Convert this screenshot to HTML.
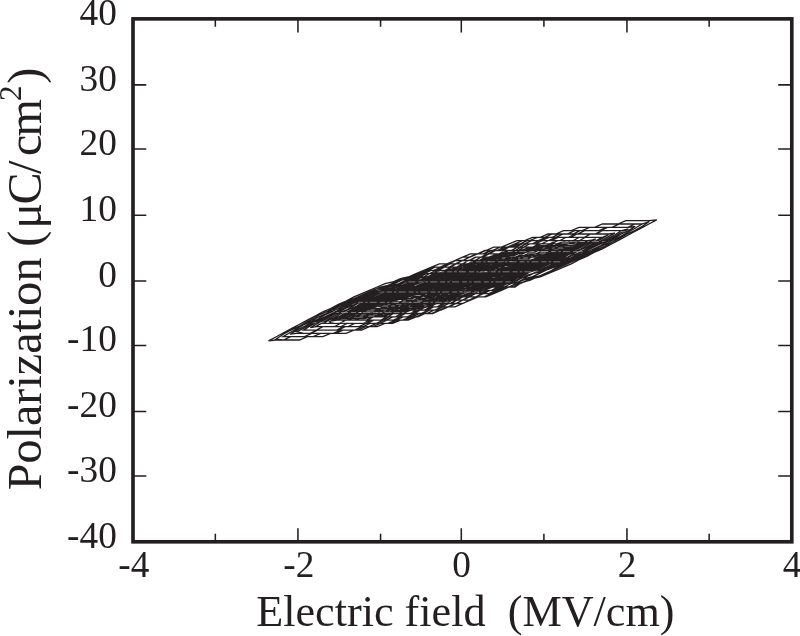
<!DOCTYPE html>
<html><head><meta charset="utf-8"><title>P-E hysteresis loops</title>
<style>
html,body{margin:0;padding:0;background:#fff;}
body{width:800px;height:636px;overflow:hidden;}
svg{display:block;}
text{font-family:"Liberation Serif","Times New Roman",Times,serif;fill:#231f20;white-space:pre;}
</style></head><body>
<svg width="800" height="636" viewBox="0 0 800 636">
<rect width="800" height="636" fill="#fff"/>
<defs><clipPath id="lens"><path d="M294.0 332.5 L302.4 331.7 L310.8 330.8 L319.3 329.8 L327.7 328.7 L336.1 327.5 L344.6 326.2 L353.0 324.8 L361.4 323.3 L369.9 321.8 L378.3 320.1 L386.7 318.4 L395.2 316.5 L403.6 314.6 L412.0 312.6 L420.4 310.5 L428.9 308.3 L437.3 306.0 L445.7 303.6 L454.2 301.1 L462.6 298.6 L471.0 295.9 L479.5 293.2 L487.9 290.3 L496.3 287.4 L504.8 284.4 L513.2 281.3 L521.6 278.1 L530.0 274.8 L538.5 271.4 L546.9 267.9 L555.3 264.4 L563.8 260.7 L572.2 257.0 L580.6 253.1 L589.1 249.2 L597.5 245.2 L605.9 241.1 L614.4 236.9 L622.8 232.6 L631.2 228.2 L622.8 229.0 L614.4 229.9 L605.9 230.9 L597.5 232.0 L589.1 233.2 L580.6 234.5 L572.2 235.9 L563.8 237.4 L555.3 238.9 L546.9 240.6 L538.5 242.3 L530.0 244.2 L521.6 246.1 L513.2 248.1 L504.8 250.2 L496.3 252.4 L487.9 254.7 L479.5 257.1 L471.0 259.6 L462.6 262.1 L454.2 264.8 L445.7 267.5 L437.3 270.4 L428.9 273.3 L420.4 276.3 L412.0 279.4 L403.6 282.6 L395.2 285.9 L386.7 289.3 L378.3 292.8 L369.9 296.3 L361.4 300.0 L353.0 303.7 L344.6 307.6 L336.1 311.5 L327.7 315.5 L319.3 319.6 L310.8 323.8 L302.4 328.1 Z"/></clipPath></defs>
<path d="M268.5 340.8 L276.3 340.0 L299.5 340.0 L307.3 336.7 L322.8 336.7 L330.6 333.4 L346.1 333.4 L353.9 330.1 L361.7 330.1 L369.4 326.7 L377.2 326.7 L385.0 323.4 L392.7 323.4 L400.5 320.1 L408.2 320.1 L416.0 316.8 L423.8 313.5 L431.5 313.5 L439.3 310.2 L447.1 306.9 L454.8 306.9 L462.6 303.5 L470.4 300.2 L478.1 296.9 L485.9 296.9 L493.7 293.6 L501.4 290.3 L509.2 287.0 L517.0 283.7 L524.7 282.0 L532.5 278.7 L540.2 277.0 L548.0 273.7 L555.8 270.4 L563.5 267.1 L571.3 263.8 L579.1 259.6 L586.8 256.3 L594.6 252.2 L602.4 248.9 L610.1 244.7 L617.9 240.6 L625.7 236.4 L633.4 232.3 L641.2 228.2 L648.9 224.0 L656.7 219.9 L648.9 220.7 L625.7 220.7 L617.9 224.0 L602.4 224.0 L594.6 227.3 L579.1 227.3 L571.3 230.6 L563.5 230.6 L555.8 234.0 L548.0 234.0 L540.2 237.3 L532.5 237.3 L524.7 240.6 L517.0 240.6 L509.2 243.9 L501.4 247.2 L493.7 247.2 L485.9 250.5 L478.1 253.8 L470.4 253.8 L462.6 257.2 L454.8 260.5 L447.1 263.8 L439.3 263.8 L431.5 267.1 L423.8 270.4 L416.0 273.7 L408.2 277.0 L400.5 278.7 L392.7 282.0 L385.0 283.7 L377.2 287.0 L369.4 290.3 L361.7 293.6 L353.9 296.9 L346.1 301.1 L338.4 304.4 L330.6 308.5 L322.8 311.8 L315.1 316.0 L307.3 320.1 L299.5 324.3 L291.8 328.4 L284.0 332.5 L276.3 336.7Z M275.8 339.2 L283.3 340.0 L290.7 336.7 L313.2 336.7 L320.6 333.4 L335.6 333.4 L343.0 330.1 L358.0 330.1 L365.5 326.7 L372.9 326.7 L380.4 323.4 L387.9 323.4 L395.4 320.1 L402.8 320.1 L410.3 316.8 L417.8 316.8 L425.2 313.5 L432.7 313.5 L440.2 310.2 L447.7 306.9 L455.1 306.9 L462.6 303.5 L470.1 300.2 L477.5 296.9 L485.0 296.9 L492.5 293.6 L500.0 290.3 L507.4 287.0 L514.9 287.0 L522.4 282.0 L529.8 280.4 L537.3 277.0 L544.8 273.7 L552.3 270.4 L559.7 267.1 L567.2 263.8 L574.7 260.5 L582.2 257.2 L589.6 253.8 L597.1 249.7 L604.6 246.4 L612.0 242.2 L619.5 238.1 L627.0 234.0 L634.5 230.6 L641.9 226.5 L649.4 221.5 L641.9 224.0 L619.5 224.0 L612.0 227.3 L589.6 227.3 L582.2 230.6 L574.7 230.6 L567.2 234.0 L552.3 234.0 L544.8 237.3 L537.3 237.3 L529.8 240.6 L522.4 240.6 L514.9 243.9 L507.4 247.2 L500.0 247.2 L492.5 250.5 L485.0 250.5 L477.5 253.8 L470.1 257.2 L462.6 257.2 L455.1 260.5 L447.7 263.8 L440.2 267.1 L432.7 267.1 L425.2 270.4 L417.8 273.7 L410.3 277.0 L402.8 278.7 L395.4 282.0 L387.9 285.3 L380.4 287.0 L372.9 290.3 L365.5 293.6 L358.0 296.9 L350.5 300.2 L343.0 303.5 L335.6 306.9 L328.1 311.0 L320.6 314.3 L313.2 318.5 L305.7 322.6 L298.2 326.7 L290.7 330.1 L283.3 334.2Z M283.0 336.7 L304.5 336.7 L311.7 333.4 L333.3 333.4 L340.5 330.1 L354.8 330.1 L362.0 326.7 L369.2 326.7 L376.4 323.4 L390.8 323.4 L397.9 320.1 L405.1 320.1 L412.3 316.8 L419.5 313.5 L426.7 313.5 L433.9 310.2 L441.0 310.2 L448.2 306.9 L455.4 303.5 L462.6 303.5 L469.8 300.2 L477.0 296.9 L484.2 296.9 L491.3 293.6 L498.5 290.3 L505.7 287.0 L512.9 287.0 L520.1 283.7 L527.3 280.4 L534.4 277.0 L541.6 275.4 L548.8 272.1 L556.0 267.9 L563.2 264.6 L570.4 261.3 L577.6 258.0 L584.7 254.7 L591.9 251.4 L599.1 247.2 L606.3 243.9 L613.5 239.8 L620.7 236.4 L627.9 232.3 L635.0 228.2 L642.2 224.0 L635.0 224.0 L627.9 227.3 L606.3 227.3 L599.1 230.6 L584.7 230.6 L577.6 234.0 L563.2 234.0 L556.0 237.3 L548.8 237.3 L541.6 240.6 L527.3 240.6 L520.1 243.9 L512.9 247.2 L505.7 247.2 L498.5 250.5 L491.3 250.5 L484.2 253.8 L477.0 253.8 L469.8 257.2 L462.6 260.5 L455.4 263.8 L448.2 263.8 L441.0 267.1 L433.9 270.4 L426.7 270.4 L419.5 273.7 L412.3 277.0 L405.1 278.7 L397.9 282.0 L390.8 285.3 L383.6 288.6 L376.4 290.3 L369.2 292.8 L362.0 296.1 L354.8 299.4 L347.6 302.7 L340.5 306.0 L333.3 309.3 L326.1 313.5 L318.9 316.8 L311.7 320.9 L304.5 324.3 L297.3 328.4 L290.2 332.5Z M290.0 334.2 L296.9 333.4 L310.7 333.4 L317.6 330.1 L338.3 330.1 L345.2 326.7 L359.1 326.7 L366.0 323.4 L379.8 323.4 L386.7 320.1 L393.6 320.1 L400.5 316.8 L407.4 316.8 L414.3 313.5 L421.2 313.5 L428.1 310.2 L435.0 310.2 L441.9 306.9 L448.8 303.5 L455.7 303.5 L462.6 300.2 L469.5 296.9 L476.4 296.9 L483.3 293.6 L490.2 290.3 L497.1 290.3 L504.0 287.0 L510.9 283.7 L517.8 282.0 L524.7 278.7 L531.6 277.0 L538.5 273.7 L545.4 270.4 L552.3 267.9 L559.2 265.4 L566.1 262.1 L573.1 258.8 L580.0 255.5 L586.9 252.2 L593.8 248.9 L600.7 245.6 L607.6 241.4 L614.5 238.1 L621.4 234.0 L628.3 230.6 L635.2 226.5 L628.3 227.3 L607.6 227.3 L600.7 230.6 L580.0 230.6 L573.1 234.0 L559.2 234.0 L552.3 237.3 L545.4 237.3 L538.5 240.6 L531.6 240.6 L524.7 243.9 L517.8 243.9 L510.9 247.2 L504.0 247.2 L497.1 250.5 L490.2 250.5 L483.3 253.8 L476.4 253.8 L469.5 257.2 L462.6 260.5 L455.7 260.5 L448.8 263.8 L441.9 267.1 L435.0 267.1 L428.1 270.4 L421.2 273.7 L414.3 277.0 L407.4 278.7 L400.5 280.4 L393.6 283.7 L386.7 287.0 L379.8 288.6 L372.9 292.8 L366.0 295.3 L359.1 298.6 L352.1 301.9 L345.2 305.2 L338.3 308.5 L331.4 311.8 L324.5 315.1 L317.6 319.3 L310.7 322.6 L303.8 326.7 L296.9 330.1Z M296.9 331.7 L303.6 333.4 L310.2 333.4 L316.8 330.1 L336.7 330.1 L343.3 326.7 L363.2 326.7 L369.8 323.4 L376.5 323.4 L383.1 320.1 L396.3 320.1 L403.0 316.8 L409.6 316.8 L416.2 313.5 L422.8 313.5 L429.5 310.2 L436.1 310.2 L442.7 306.9 L449.3 306.9 L456.0 303.5 L462.6 300.2 L469.2 300.2 L475.9 296.9 L482.5 293.6 L489.1 293.6 L495.7 290.3 L502.4 287.0 L509.0 287.0 L515.6 283.7 L522.2 280.4 L528.9 278.7 L535.5 275.4 L542.1 272.1 L548.7 268.8 L555.4 266.3 L562.0 263.0 L568.6 259.6 L575.3 256.3 L581.9 253.8 L588.5 249.7 L595.1 246.4 L601.8 243.1 L608.4 239.8 L615.0 236.4 L621.6 232.3 L628.3 229.0 L621.6 230.6 L601.8 230.6 L595.1 234.0 L575.3 234.0 L568.6 237.3 L555.4 237.3 L548.7 240.6 L542.1 240.6 L535.5 243.9 L522.2 243.9 L515.6 247.2 L509.0 247.2 L502.4 250.5 L495.7 250.5 L489.1 253.8 L482.5 257.2 L475.9 257.2 L469.2 260.5 L462.6 260.5 L456.0 263.8 L449.3 267.1 L442.7 267.1 L436.1 270.4 L429.5 273.7 L422.8 273.7 L416.2 277.0 L409.6 280.4 L403.0 282.0 L396.3 285.3 L389.7 287.0 L383.1 290.3 L376.5 291.9 L369.8 294.4 L363.2 297.7 L356.6 301.1 L349.9 304.4 L343.3 306.9 L336.7 311.0 L330.1 314.3 L323.4 317.6 L316.8 320.9 L310.2 324.3 L303.6 328.4Z M303.7 330.1 L316.4 330.1 L322.8 326.7 L348.2 326.7 L354.6 323.4 L367.3 323.4 L373.6 320.1 L386.3 320.1 L392.7 316.8 L399.0 316.8 L405.4 313.5 L411.8 313.5 L418.1 310.2 L424.5 310.2 L430.8 306.9 L437.2 306.9 L443.5 303.5 L449.9 303.5 L456.2 300.2 L462.6 300.2 L469.0 296.9 L475.3 293.6 L481.7 293.6 L488.0 290.3 L494.4 290.3 L500.7 287.0 L507.1 283.7 L513.4 282.0 L519.8 278.7 L526.2 277.0 L532.5 273.7 L538.9 272.1 L545.2 269.6 L551.6 266.3 L557.9 263.8 L564.3 260.5 L570.6 258.0 L577.0 254.7 L583.4 251.4 L589.7 248.0 L596.1 244.7 L602.4 241.4 L608.8 238.1 L615.1 234.8 L621.5 230.6 L602.4 230.6 L596.1 234.0 L577.0 234.0 L570.6 237.3 L557.9 237.3 L551.6 240.6 L538.9 240.6 L532.5 243.9 L526.2 243.9 L519.8 247.2 L507.1 247.2 L500.7 250.5 L494.4 250.5 L488.0 253.8 L481.7 257.2 L475.3 257.2 L469.0 260.5 L462.6 260.5 L456.2 263.8 L449.9 263.8 L443.5 267.1 L437.2 270.4 L430.8 270.4 L424.5 273.7 L418.1 277.0 L411.8 278.7 L405.4 280.4 L399.0 283.7 L392.7 285.3 L386.3 288.6 L380.0 291.1 L373.6 294.4 L367.3 296.9 L360.9 300.2 L354.6 302.7 L348.2 306.0 L341.8 309.3 L335.5 312.7 L329.1 316.0 L322.8 319.3 L316.4 322.6 L310.1 325.9Z M310.3 327.6 L316.4 326.7 L340.8 326.7 L346.9 323.4 L365.2 323.4 L371.2 320.1 L383.4 320.1 L389.5 316.8 L395.6 316.8 L401.7 313.5 L413.9 313.5 L420.0 310.2 L426.1 310.2 L432.1 306.9 L438.2 306.9 L444.3 303.5 L450.4 303.5 L456.5 300.2 L462.6 300.2 L468.7 296.9 L474.8 293.6 L480.9 293.6 L487.0 290.3 L493.1 290.3 L499.1 287.0 L505.2 283.7 L511.3 282.0 L517.4 280.4 L523.5 277.0 L529.6 275.4 L535.7 272.1 L541.8 269.6 L547.9 267.1 L554.0 264.6 L560.0 261.3 L566.1 258.8 L572.2 255.5 L578.3 253.0 L584.4 249.7 L590.5 246.4 L596.6 243.1 L602.7 239.8 L608.8 236.4 L614.9 233.1 L608.8 234.0 L590.5 234.0 L584.4 237.3 L566.1 237.3 L560.0 240.6 L547.9 240.6 L541.8 243.9 L529.6 243.9 L523.5 247.2 L517.4 247.2 L511.3 250.5 L505.2 250.5 L499.1 253.8 L487.0 253.8 L480.9 257.2 L474.8 260.5 L468.7 260.5 L462.6 263.8 L456.5 263.8 L450.4 267.1 L444.3 267.1 L438.2 270.4 L432.1 273.7 L426.1 273.7 L420.0 277.0 L413.9 278.7 L407.8 282.0 L401.7 283.7 L395.6 287.0 L389.5 288.6 L383.4 291.1 L377.3 293.6 L371.2 296.1 L365.2 299.4 L359.1 301.9 L353.0 305.2 L346.9 307.7 L340.8 311.0 L334.7 314.3 L328.6 317.6 L322.5 320.9 L316.4 324.3Z M316.9 325.9 L322.7 326.7 L334.3 326.7 L340.2 323.4 L363.5 323.4 L369.3 320.1 L381.0 320.1 L386.8 316.8 L398.5 316.8 L404.3 313.5 L410.1 313.5 L416.0 310.2 L427.6 310.2 L433.5 306.9 L439.3 306.9 L445.1 303.5 L450.9 303.5 L456.8 300.2 L462.6 300.2 L468.4 296.9 L474.3 293.6 L480.1 293.6 L485.9 290.3 L491.7 290.3 L497.6 287.0 L503.4 283.7 L509.2 283.7 L515.1 280.4 L520.9 278.7 L526.7 275.4 L532.6 273.7 L538.4 270.4 L544.2 267.9 L550.0 265.4 L555.9 262.1 L561.7 259.6 L567.5 257.2 L573.4 253.8 L579.2 250.5 L585.0 248.0 L590.9 244.7 L596.7 241.4 L602.5 238.1 L608.3 234.8 L602.5 237.3 L579.2 237.3 L573.4 240.6 L555.9 240.6 L550.0 243.9 L538.4 243.9 L532.6 247.2 L520.9 247.2 L515.1 250.5 L509.2 250.5 L503.4 253.8 L497.6 253.8 L491.7 257.2 L485.9 257.2 L480.1 260.5 L474.3 260.5 L468.4 263.8 L462.6 263.8 L456.8 267.1 L450.9 267.1 L445.1 270.4 L439.3 270.4 L433.5 273.7 L427.6 277.0 L421.8 277.0 L416.0 280.4 L410.1 282.0 L404.3 285.3 L398.5 287.0 L392.6 288.6 L386.8 290.3 L381.0 292.8 L375.2 295.3 L369.3 298.6 L363.5 301.1 L357.7 303.5 L351.8 306.9 L346.0 310.2 L340.2 312.7 L334.3 316.0 L328.5 319.3 L322.7 322.6Z M323.2 323.4 L340.0 323.4 L345.5 320.1 L367.8 320.1 L373.4 316.8 L384.6 316.8 L390.1 313.5 L401.3 313.5 L406.9 310.2 L418.0 310.2 L423.6 306.9 L429.2 306.9 L434.7 303.5 L440.3 303.5 L445.9 300.2 L451.5 300.2 L457.0 296.9 L462.6 296.9 L468.2 293.6 L473.7 293.6 L479.3 290.3 L484.9 290.3 L490.5 287.0 L496.0 287.0 L501.6 283.7 L507.2 282.0 L512.8 280.4 L518.3 277.0 L523.9 275.4 L529.5 272.1 L535.1 270.4 L540.6 267.9 L546.2 265.4 L551.8 263.0 L557.4 260.5 L562.9 258.0 L568.5 254.7 L574.1 252.2 L579.7 249.7 L585.2 246.4 L590.8 243.1 L596.4 240.6 L602.0 237.3 L585.2 237.3 L579.7 240.6 L557.4 240.6 L551.8 243.9 L540.6 243.9 L535.1 247.2 L523.9 247.2 L518.3 250.5 L507.2 250.5 L501.6 253.8 L496.0 253.8 L490.5 257.2 L484.9 257.2 L479.3 260.5 L473.7 260.5 L468.2 263.8 L462.6 263.8 L457.0 267.1 L451.5 267.1 L445.9 270.4 L440.3 270.4 L434.7 273.7 L429.2 273.7 L423.6 277.0 L418.0 278.7 L412.4 280.4 L406.9 283.7 L401.3 285.3 L395.7 287.0 L390.1 290.3 L384.6 292.8 L379.0 295.3 L373.4 297.7 L367.8 300.2 L362.3 302.7 L356.7 306.0 L351.1 308.5 L345.5 311.0 L340.0 314.3 L334.4 317.6 L328.8 320.1Z M329.5 321.8 L334.8 323.4 L340.1 323.4 L345.4 320.1 L366.7 320.1 L372.1 316.8 L388.0 316.8 L393.4 313.5 L404.0 313.5 L409.3 310.2 L420.0 310.2 L425.3 306.9 L430.6 306.9 L436.0 303.5 L446.6 303.5 L451.9 300.2 L457.3 300.2 L462.6 296.9 L467.9 296.9 L473.3 293.6 L478.6 293.6 L483.9 290.3 L489.2 287.0 L494.6 287.0 L499.9 283.7 L505.2 282.0 L510.5 280.4 L515.9 278.7 L521.2 277.0 L526.5 273.7 L531.8 271.2 L537.2 268.8 L542.5 266.3 L547.8 263.8 L553.1 261.3 L558.5 258.8 L563.8 256.3 L569.1 253.8 L574.4 250.5 L579.8 248.0 L585.1 244.7 L590.4 242.2 L595.7 238.9 L590.4 240.6 L574.4 240.6 L569.1 243.9 L553.1 243.9 L547.8 247.2 L531.8 247.2 L526.5 250.5 L515.9 250.5 L510.5 253.8 L499.9 253.8 L494.6 257.2 L489.2 257.2 L483.9 260.5 L478.6 260.5 L473.3 263.8 L467.9 263.8 L462.6 267.1 L457.3 267.1 L451.9 270.4 L446.6 270.4 L441.3 273.7 L436.0 273.7 L430.6 277.0 L425.3 277.0 L420.0 280.4 L414.7 282.0 L409.3 283.7 L404.0 287.0 L398.7 288.6 L393.4 289.5 L388.0 291.9 L382.7 294.4 L377.4 296.9 L372.1 299.4 L366.7 301.9 L361.4 304.4 L356.1 306.9 L350.8 310.2 L345.4 312.7 L340.1 316.0 L334.8 318.5Z M331.9 320.9 L337.1 320.1 L347.6 320.1 L352.8 318.5 L363.3 318.5 L368.5 316.8 L373.7 316.8 L378.9 315.1 L384.2 315.1 L389.4 313.5 L394.6 313.5 L399.9 311.8 L405.1 310.2 L410.3 310.2 L415.5 308.5 L420.8 306.9 L426.0 306.9 L431.2 305.2 L436.5 303.5 L441.7 301.9 L446.9 300.2 L452.1 298.6 L457.4 296.9 L462.6 295.3 L467.8 293.6 L473.1 291.9 L478.3 290.3 L483.5 288.6 L488.7 287.0 L494.0 285.3 L499.2 283.7 L504.4 282.0 L509.7 279.5 L514.9 277.9 L520.1 275.4 L525.3 273.7 L530.6 271.2 L535.8 268.8 L541.0 266.7 L546.3 264.2 L551.5 262.1 L556.7 259.2 L561.9 256.7 L567.2 253.8 L572.4 251.4 L577.6 248.5 L582.9 245.6 L588.1 242.7 L593.3 239.8 L588.1 240.6 L577.6 240.6 L572.4 242.2 L561.9 242.2 L556.7 243.9 L551.5 243.9 L546.3 245.6 L541.0 245.6 L535.8 247.2 L530.6 247.2 L525.3 248.9 L520.1 250.5 L514.9 250.5 L509.7 252.2 L504.4 253.8 L499.2 255.5 L494.0 255.5 L488.7 257.2 L483.5 258.8 L478.3 260.5 L473.1 262.1 L467.8 263.8 L462.6 265.4 L457.4 267.1 L452.1 268.8 L446.9 270.4 L441.7 272.1 L436.5 273.7 L431.2 275.4 L426.0 277.0 L420.8 279.5 L415.5 281.2 L410.3 283.7 L405.1 285.3 L399.9 287.8 L394.6 289.5 L389.4 291.9 L384.2 294.0 L378.9 296.5 L373.7 298.6 L368.5 301.5 L363.3 304.0 L358.0 306.9 L352.8 309.3 L347.6 312.2 L342.3 315.1 L337.1 318.0Z M334.3 320.1 L354.8 320.1 L360.0 318.5 L365.1 318.5 L370.2 316.8 L380.5 316.8 L385.6 315.1 L390.8 313.5 L395.9 313.5 L401.0 311.8 L406.2 311.8 L411.3 310.2 L416.4 308.5 L421.5 308.5 L426.7 306.9 L431.8 305.2 L436.9 303.5 L442.1 301.9 L447.2 301.9 L452.3 300.2 L457.5 298.6 L462.6 296.9 L467.7 295.3 L472.9 293.6 L478.0 291.9 L483.1 290.3 L488.3 288.6 L493.4 287.0 L498.5 285.3 L503.7 282.8 L508.8 280.4 L513.9 278.7 L519.0 277.0 L524.2 274.6 L529.3 271.2 L534.4 269.2 L539.6 267.1 L544.7 264.6 L549.8 262.1 L555.0 259.6 L560.1 257.2 L565.2 254.7 L570.4 251.8 L575.5 249.3 L580.6 246.4 L585.8 243.5 L590.9 240.6 L585.8 242.2 L575.5 242.2 L570.4 243.9 L565.2 243.9 L560.1 245.6 L549.8 245.6 L544.7 247.2 L539.6 247.2 L534.4 248.9 L529.3 248.9 L524.2 250.5 L519.0 252.2 L513.9 252.2 L508.8 253.8 L503.7 255.5 L498.5 257.2 L493.4 257.2 L488.3 258.8 L483.1 260.5 L478.0 262.1 L472.9 263.8 L467.7 265.4 L462.6 265.4 L457.5 267.1 L452.3 268.8 L447.2 270.4 L442.1 272.1 L436.9 275.4 L431.8 277.0 L426.7 278.7 L421.5 280.4 L416.4 282.0 L411.3 284.5 L406.2 286.1 L401.0 288.6 L395.9 289.5 L390.8 291.5 L385.6 293.6 L380.5 296.1 L375.4 298.6 L370.2 301.1 L365.1 303.5 L360.0 306.0 L354.8 308.9 L349.7 311.4 L344.6 314.3 L339.4 317.2Z M336.7 319.3 L341.8 320.1 L346.8 320.1 L351.8 318.5 L361.9 318.5 L366.9 316.8 L377.0 316.8 L382.1 315.1 L387.1 315.1 L392.1 313.5 L397.2 313.5 L402.2 311.8 L407.2 310.2 L412.3 310.2 L417.3 308.5 L422.3 306.9 L427.4 306.9 L432.4 305.2 L437.4 303.5 L442.5 301.9 L447.5 300.2 L452.5 298.6 L457.6 296.9 L462.6 296.9 L467.6 295.3 L472.7 293.6 L477.7 291.9 L482.7 290.3 L487.8 288.6 L492.8 287.0 L497.8 283.7 L502.9 282.8 L507.9 280.4 L512.9 278.7 L518.0 277.0 L523.0 274.6 L528.0 271.7 L533.1 269.2 L538.1 267.1 L543.1 265.0 L548.2 262.5 L553.2 260.1 L558.3 257.6 L563.3 255.1 L568.3 252.6 L573.4 249.7 L578.4 246.8 L583.4 244.3 L588.5 241.4 L583.4 242.2 L578.4 243.9 L568.3 243.9 L563.3 245.6 L553.2 245.6 L548.2 247.2 L543.1 247.2 L538.1 248.9 L533.1 248.9 L528.0 250.5 L523.0 250.5 L518.0 252.2 L512.9 253.8 L507.9 253.8 L502.9 255.5 L497.8 257.2 L492.8 258.8 L487.8 258.8 L482.7 260.5 L477.7 262.1 L472.7 263.8 L467.6 265.4 L462.6 267.1 L457.6 268.8 L452.5 270.4 L447.5 272.1 L442.5 273.7 L437.4 275.4 L432.4 277.0 L427.4 278.7 L422.3 280.4 L417.3 282.0 L412.3 283.7 L407.2 286.1 L402.2 287.8 L397.2 289.0 L392.1 291.5 L387.1 293.6 L382.1 295.7 L377.0 298.2 L372.0 300.6 L366.9 303.1 L361.9 305.6 L356.9 308.1 L351.8 311.0 L346.8 313.9 L341.8 316.4Z M339.2 318.5 L349.0 318.5 L354.0 316.8 L363.9 316.8 L368.8 315.1 L378.7 315.1 L383.6 313.5 L388.5 313.5 L393.5 311.8 L398.4 311.8 L403.4 310.2 L408.3 308.5 L413.2 308.5 L418.2 306.9 L423.1 305.2 L428.0 305.2 L433.0 303.5 L437.9 301.9 L442.9 300.2 L447.8 298.6 L452.7 298.6 L457.7 296.9 L462.6 295.3 L467.5 293.6 L472.5 291.9 L477.4 290.3 L482.3 288.6 L487.3 287.0 L492.2 285.3 L497.2 283.7 L502.1 282.0 L507.0 279.5 L512.0 277.9 L516.9 276.2 L521.8 273.7 L526.8 271.7 L531.7 269.6 L536.7 267.5 L541.6 265.0 L546.5 263.0 L551.5 260.5 L556.4 258.0 L561.3 255.5 L566.3 253.0 L571.2 250.5 L576.2 247.6 L581.1 244.7 L586.0 242.2 L581.1 242.2 L576.2 243.9 L561.3 243.9 L556.4 245.6 L551.5 245.6 L546.5 247.2 L541.6 247.2 L536.7 248.9 L531.7 248.9 L526.8 250.5 L521.8 250.5 L516.9 252.2 L512.0 252.2 L507.0 253.8 L502.1 255.5 L497.2 257.2 L492.2 257.2 L487.3 258.8 L482.3 260.5 L477.4 262.1 L472.5 263.8 L467.5 263.8 L462.6 265.4 L457.7 267.1 L452.7 268.8 L447.8 270.4 L442.9 272.1 L437.9 273.7 L433.0 275.4 L428.0 277.0 L423.1 279.5 L418.2 281.2 L413.2 282.8 L408.3 285.3 L403.4 287.0 L398.4 289.0 L393.5 291.1 L388.5 293.2 L383.6 295.7 L378.7 297.7 L373.7 300.2 L368.8 302.7 L363.9 305.2 L358.9 307.7 L354.0 310.2 L349.0 313.1 L344.1 316.0Z M341.6 317.6 L346.4 316.8 L351.3 316.8 L356.1 315.1 L365.8 315.1 L370.6 313.5 L380.3 313.5 L385.2 311.8 L390.0 311.8 L394.8 310.2 L399.7 310.2 L404.5 308.5 L409.4 306.9 L414.2 306.9 L419.0 305.2 L423.9 303.5 L428.7 303.5 L433.6 301.9 L438.4 300.2 L443.2 298.6 L448.1 298.6 L452.9 296.9 L457.8 295.3 L462.6 293.6 L467.4 291.9 L472.3 290.3 L477.1 288.6 L482.0 287.0 L486.8 285.3 L491.6 283.7 L496.5 282.0 L501.3 280.4 L506.2 278.7 L511.0 277.0 L515.8 275.4 L520.7 272.9 L525.5 271.7 L530.4 269.6 L535.2 267.5 L540.0 265.4 L544.9 263.4 L549.7 260.9 L554.6 258.4 L559.4 255.9 L564.2 253.4 L569.1 250.9 L573.9 248.5 L578.8 245.6 L583.6 243.1 L578.8 242.2 L573.9 242.2 L569.1 243.9 L559.4 243.9 L554.6 245.6 L544.9 245.6 L540.0 247.2 L535.2 247.2 L530.4 248.9 L525.5 248.9 L520.7 250.5 L515.8 252.2 L511.0 252.2 L506.2 253.8 L501.3 253.8 L496.5 255.5 L491.6 257.2 L486.8 258.8 L482.0 260.5 L477.1 260.5 L472.3 262.1 L467.4 263.8 L462.6 265.4 L457.8 267.1 L452.9 268.8 L448.1 270.4 L443.2 272.1 L438.4 273.7 L433.6 275.4 L428.7 277.0 L423.9 278.7 L419.0 280.4 L414.2 282.0 L409.4 283.7 L404.5 286.1 L399.7 289.0 L394.8 291.1 L390.0 293.2 L385.2 295.3 L380.3 297.3 L375.5 299.8 L370.6 302.3 L365.8 304.8 L361.0 307.3 L356.1 309.8 L351.3 312.2 L346.4 315.1Z M344.0 317.2 L348.8 318.5 L353.5 316.8 L363.0 316.8 L367.7 315.1 L377.2 315.1 L382.0 313.5 L386.7 313.5 L391.5 311.8 L396.2 311.8 L400.9 310.2 L405.7 310.2 L410.4 308.5 L415.2 308.5 L419.9 306.9 L424.7 305.2 L429.4 305.2 L434.1 303.5 L438.9 301.9 L443.6 300.2 L448.4 298.6 L453.1 298.6 L457.9 296.9 L462.6 295.3 L467.3 293.6 L472.1 291.9 L476.8 290.3 L481.6 288.6 L486.3 287.0 L491.1 285.3 L495.8 283.7 L500.5 282.8 L505.3 280.4 L510.0 278.7 L514.8 277.0 L519.5 274.6 L524.3 272.1 L529.0 270.0 L533.7 267.9 L538.5 265.9 L543.2 263.8 L548.0 261.3 L552.7 258.8 L557.5 256.7 L562.2 254.3 L566.9 251.4 L571.7 248.9 L576.4 246.4 L581.2 243.5 L576.4 245.6 L562.2 245.6 L557.5 247.2 L552.7 247.2 L548.0 248.9 L538.5 248.9 L533.7 250.5 L529.0 250.5 L524.3 252.2 L519.5 252.2 L514.8 253.8 L510.0 255.5 L505.3 255.5 L500.5 257.2 L495.8 258.8 L491.1 258.8 L486.3 260.5 L481.6 262.1 L476.8 263.8 L472.1 263.8 L467.3 265.4 L462.6 267.1 L457.9 268.8 L453.1 270.4 L448.4 272.1 L443.6 273.7 L438.9 275.4 L434.1 277.0 L429.4 278.7 L424.7 280.4 L419.9 282.0 L415.2 283.7 L410.4 285.3 L405.7 287.8 L400.9 288.6 L396.2 290.7 L391.5 292.8 L386.7 294.8 L382.0 296.9 L377.2 299.4 L372.5 301.9 L367.7 304.0 L363.0 306.4 L358.3 309.3 L353.5 311.8 L348.8 314.3Z M346.4 316.4 L351.1 316.8 L355.7 316.8 L360.4 315.1 L369.7 315.1 L374.3 313.5 L383.6 313.5 L388.3 311.8 L392.9 311.8 L397.6 310.2 L402.2 310.2 L406.8 308.5 L411.5 308.5 L416.1 306.9 L420.8 305.2 L425.4 305.2 L430.1 303.5 L434.7 301.9 L439.4 301.9 L444.0 300.2 L448.7 298.6 L453.3 296.9 L458.0 296.9 L462.6 295.3 L467.2 293.6 L471.9 291.9 L476.5 290.3 L481.2 288.6 L485.8 287.0 L490.5 285.3 L495.1 283.7 L499.8 282.0 L504.4 280.4 L509.1 278.7 L513.7 277.0 L518.4 274.6 L523.0 272.1 L527.6 270.4 L532.3 268.3 L536.9 266.3 L541.6 263.8 L546.2 261.7 L550.9 259.6 L555.5 257.2 L560.2 254.7 L564.8 252.2 L569.5 249.7 L574.1 247.2 L578.8 244.3 L574.1 245.6 L564.8 245.6 L560.2 247.2 L550.9 247.2 L546.2 248.9 L541.6 248.9 L536.9 250.5 L532.3 250.5 L527.6 252.2 L523.0 252.2 L518.4 253.8 L513.7 253.8 L509.1 255.5 L504.4 255.5 L499.8 257.2 L495.1 258.8 L490.5 258.8 L485.8 260.5 L481.2 262.1 L476.5 263.8 L471.9 263.8 L467.2 265.4 L462.6 267.1 L458.0 268.8 L453.3 270.4 L448.7 272.1 L444.0 273.7 L439.4 275.4 L434.7 277.0 L430.1 278.7 L425.4 279.5 L420.8 282.0 L416.1 283.7 L411.5 285.3 L406.8 287.0 L402.2 288.6 L397.6 290.3 L392.9 292.4 L388.3 294.4 L383.6 296.9 L379.0 299.0 L374.3 301.1 L369.7 303.5 L365.0 306.0 L360.4 308.5 L355.7 311.0 L351.1 313.5Z M348.9 315.6 L353.4 315.1 L358.0 315.1 L362.5 313.5 L371.6 313.5 L376.2 311.8 L385.3 311.8 L389.8 310.2 L394.4 310.2 L398.9 308.5 L403.5 308.5 L408.0 306.9 L412.6 306.9 L417.1 305.2 L421.7 303.5 L426.2 303.5 L430.8 301.9 L435.3 300.2 L439.9 300.2 L444.4 298.6 L449.0 296.9 L453.5 296.9 L458.1 295.3 L462.6 293.6 L467.1 291.9 L471.7 290.3 L476.2 288.6 L480.8 287.0 L485.3 285.3 L489.9 283.7 L494.4 283.7 L499.0 281.2 L503.5 279.5 L508.1 277.9 L512.6 276.2 L517.2 273.7 L521.7 272.5 L526.3 270.4 L530.8 268.3 L535.4 266.3 L539.9 264.2 L544.5 262.1 L549.0 260.1 L553.6 257.6 L558.1 255.1 L562.7 252.6 L567.2 250.1 L571.8 247.6 L576.3 245.1 L571.8 245.6 L562.7 245.6 L558.1 247.2 L549.0 247.2 L544.5 248.9 L535.4 248.9 L530.8 250.5 L526.3 250.5 L521.7 252.2 L517.2 252.2 L512.6 253.8 L508.1 253.8 L503.5 255.5 L499.0 257.2 L494.4 257.2 L489.9 258.8 L485.3 260.5 L480.8 262.1 L476.2 262.1 L471.7 263.8 L467.1 265.4 L462.6 267.1 L458.1 268.8 L453.5 268.8 L449.0 270.4 L444.4 272.1 L439.9 273.7 L435.3 275.4 L430.8 277.0 L426.2 278.7 L421.7 280.4 L417.1 282.8 L412.6 284.5 L408.0 286.1 L403.5 288.2 L398.9 290.3 L394.4 292.4 L389.8 294.4 L385.3 296.5 L380.7 298.6 L376.2 300.6 L371.6 303.1 L367.1 305.6 L362.5 308.1 L358.0 310.6 L353.4 313.1Z M351.3 314.7 L355.8 313.5 L360.2 313.5 L364.7 311.8 L373.6 311.8 L378.0 310.2 L386.9 310.2 L391.4 308.5 L395.8 308.5 L400.3 306.9 L404.7 306.9 L409.2 305.2 L413.6 305.2 L418.1 303.5 L422.5 303.5 L427.0 301.9 L431.4 300.2 L435.9 300.2 L440.3 298.6 L444.8 296.9 L449.2 296.9 L453.7 295.3 L458.1 293.6 L462.6 291.9 L467.1 290.3 L471.5 290.3 L476.0 288.6 L480.4 287.0 L484.9 285.3 L489.3 283.7 L493.8 282.0 L498.2 280.4 L502.7 278.7 L507.1 277.0 L511.6 275.4 L516.0 272.9 L520.5 272.5 L524.9 270.8 L529.4 268.8 L533.8 266.7 L538.3 264.6 L542.7 262.5 L547.2 260.5 L551.6 258.0 L556.1 255.9 L560.5 253.4 L565.0 250.9 L569.4 248.5 L573.9 246.0 L569.4 245.6 L556.1 245.6 L551.6 247.2 L542.7 247.2 L538.3 248.9 L533.8 248.9 L529.4 250.5 L524.9 250.5 L520.5 252.2 L516.0 252.2 L511.6 253.8 L507.1 253.8 L502.7 255.5 L498.2 257.2 L493.8 257.2 L489.3 258.8 L484.9 260.5 L480.4 260.5 L476.0 262.1 L471.5 263.8 L467.1 265.4 L462.6 265.4 L458.1 267.1 L453.7 268.8 L449.2 270.4 L444.8 272.1 L440.3 273.7 L435.9 275.4 L431.4 277.0 L427.0 277.9 L422.5 279.5 L418.1 281.2 L413.6 283.7 L409.2 285.3 L404.7 288.2 L400.3 289.9 L395.8 291.9 L391.4 294.0 L386.9 296.1 L382.5 298.2 L378.0 300.2 L373.6 302.7 L369.1 304.8 L364.7 307.3 L360.2 309.8 L355.8 312.2Z M353.7 313.9 L358.1 313.5 L362.4 313.5 L366.8 311.8 L379.9 311.8 L384.2 310.2 L388.6 310.2 L392.9 308.5 L401.6 308.5 L406.0 306.9 L410.3 306.9 L414.7 305.2 L419.1 303.5 L423.4 303.5 L427.8 301.9 L432.1 301.9 L436.5 300.2 L440.8 298.6 L445.2 298.6 L449.5 296.9 L453.9 295.3 L458.2 293.6 L462.6 293.6 L467.0 291.9 L471.3 290.3 L475.7 288.6 L480.0 287.0 L484.4 285.3 L488.7 283.7 L493.1 283.7 L497.4 281.2 L501.8 279.5 L506.1 277.9 L510.5 276.2 L514.9 274.6 L519.2 272.9 L523.6 270.8 L527.9 268.8 L532.3 267.1 L536.6 265.0 L541.0 263.0 L545.3 260.9 L549.7 258.8 L554.1 256.3 L558.4 253.8 L562.8 251.8 L567.1 249.3 L571.5 246.8 L567.1 247.2 L558.4 247.2 L554.1 248.9 L545.3 248.9 L541.0 250.5 L532.3 250.5 L527.9 252.2 L523.6 252.2 L519.2 253.8 L514.9 253.8 L510.5 255.5 L506.1 255.5 L501.8 257.2 L497.4 257.2 L493.1 258.8 L488.7 260.5 L484.4 260.5 L480.0 262.1 L475.7 263.8 L471.3 265.4 L467.0 265.4 L462.6 267.1 L458.2 268.8 L453.9 270.4 L449.5 272.1 L445.2 272.1 L440.8 273.7 L436.5 275.4 L432.1 277.0 L427.8 278.7 L423.4 280.4 L419.1 282.8 L414.7 284.5 L410.3 286.1 L406.0 287.8 L401.6 289.9 L397.3 291.9 L392.9 293.6 L388.6 295.7 L384.2 297.7 L379.9 299.8 L375.5 301.9 L371.1 304.4 L366.8 306.9 L362.4 308.9 L358.1 311.4Z M356.2 313.1 L360.4 313.5 L364.7 313.5 L368.9 311.8 L377.4 311.8 L381.7 310.2 L390.2 310.2 L394.5 308.5 L398.7 308.5 L403.0 306.9 L411.5 306.9 L415.8 305.2 L420.0 303.5 L424.3 303.5 L428.5 301.9 L432.8 301.9 L437.1 300.2 L441.3 298.6 L445.6 298.6 L449.8 296.9 L454.1 295.3 L458.3 295.3 L462.6 293.6 L466.9 291.9 L471.1 290.3 L475.4 288.6 L479.6 287.0 L483.9 287.0 L488.1 285.3 L492.4 283.7 L496.7 282.0 L500.9 280.4 L505.2 278.7 L509.4 277.0 L513.7 274.6 L518.0 272.9 L522.2 271.2 L526.5 269.2 L530.7 267.1 L535.0 265.4 L539.2 263.4 L543.5 261.3 L547.8 259.2 L552.0 256.7 L556.3 254.7 L560.5 252.2 L564.8 250.1 L569.0 247.6 L564.8 248.9 L552.0 248.9 L547.8 250.5 L539.2 250.5 L535.0 252.2 L526.5 252.2 L522.2 253.8 L518.0 253.8 L513.7 255.5 L509.4 255.5 L505.2 257.2 L500.9 257.2 L496.7 258.8 L492.4 260.5 L488.1 260.5 L483.9 262.1 L479.6 263.8 L475.4 263.8 L471.1 265.4 L466.9 267.1 L462.6 268.8 L458.3 268.8 L454.1 270.4 L449.8 272.1 L445.6 273.7 L441.3 275.4 L437.1 277.0 L432.8 278.7 L428.5 279.5 L424.3 281.2 L420.0 282.8 L415.8 284.5 L411.5 286.1 L407.2 287.8 L403.0 289.5 L398.7 291.5 L394.5 293.6 L390.2 295.3 L386.0 297.3 L381.7 299.4 L377.4 301.5 L373.2 304.0 L368.9 306.0 L364.7 308.5 L360.4 310.6Z M358.6 312.2 L362.7 310.2 L375.2 310.2 L379.4 308.5 L387.7 308.5 L391.9 306.9 L400.2 306.9 L404.3 305.2 L408.5 305.2 L412.7 303.5 L416.8 303.5 L421.0 301.9 L425.2 301.9 L429.3 300.2 L433.5 298.6 L437.6 298.6 L441.8 296.9 L446.0 296.9 L450.1 295.3 L454.3 293.6 L458.4 291.9 L462.6 291.9 L466.8 290.3 L470.9 288.6 L475.1 287.0 L479.2 285.3 L483.4 285.3 L487.6 283.7 L491.7 282.0 L495.9 280.4 L500.0 278.7 L504.2 277.0 L508.4 275.4 L512.5 273.7 L516.7 272.9 L520.9 271.2 L525.0 269.6 L529.2 267.5 L533.3 265.9 L537.5 263.8 L541.7 261.7 L545.8 259.6 L550.0 257.6 L554.1 255.1 L558.3 253.0 L562.5 250.5 L566.6 248.5 L562.5 247.2 L558.3 247.2 L554.1 248.9 L541.7 248.9 L537.5 250.5 L529.2 250.5 L525.0 252.2 L520.9 252.2 L516.7 253.8 L512.5 253.8 L508.4 255.5 L504.2 255.5 L500.0 257.2 L495.9 257.2 L491.7 258.8 L487.6 260.5 L483.4 260.5 L479.2 262.1 L475.1 263.8 L470.9 263.8 L466.8 265.4 L462.6 267.1 L458.4 268.8 L454.3 268.8 L450.1 270.4 L446.0 272.1 L441.8 273.7 L437.6 275.4 L433.5 277.0 L429.3 277.9 L425.2 279.5 L421.0 281.2 L416.8 282.8 L412.7 284.5 L408.5 287.8 L404.3 289.5 L400.2 291.1 L396.0 293.2 L391.9 294.8 L387.7 296.9 L383.5 299.0 L379.4 301.1 L375.2 303.1 L371.1 305.6 L366.9 307.7 L362.7 310.2Z M361.0 311.4 L365.1 311.8 L377.3 311.8 L381.3 310.2 L389.5 310.2 L393.5 308.5 L401.6 308.5 L405.7 306.9 L409.8 306.9 L413.8 305.2 L417.9 305.2 L422.0 303.5 L426.0 303.5 L430.1 301.9 L434.2 301.9 L438.2 300.2 L442.3 298.6 L446.3 298.6 L450.4 296.9 L454.5 295.3 L458.5 295.3 L462.6 293.6 L466.7 291.9 L470.7 290.3 L474.8 290.3 L478.9 288.6 L482.9 287.0 L487.0 285.3 L491.0 283.7 L495.1 282.8 L499.2 281.2 L503.2 279.5 L507.3 277.9 L511.4 276.2 L515.4 273.3 L519.5 271.7 L523.6 269.6 L527.6 267.9 L531.7 265.9 L535.7 264.2 L539.8 262.1 L543.9 260.1 L547.9 258.0 L552.0 255.9 L556.1 253.4 L560.1 251.4 L564.2 249.3 L560.1 250.5 L552.0 250.5 L547.9 252.2 L539.8 252.2 L535.7 253.8 L527.6 253.8 L523.6 255.5 L519.5 255.5 L515.4 257.2 L511.4 257.2 L507.3 258.8 L503.2 258.8 L499.2 260.5 L495.1 260.5 L491.0 262.1 L487.0 262.1 L482.9 263.8 L478.9 265.4 L474.8 265.4 L470.7 267.1 L466.7 268.8 L462.6 268.8 L458.5 270.4 L454.5 272.1 L450.4 273.7 L446.3 275.4 L442.3 275.4 L438.2 277.0 L434.2 278.7 L430.1 280.4 L426.0 282.0 L422.0 283.7 L417.9 285.3 L413.8 287.0 L409.8 287.4 L405.7 289.0 L401.6 291.1 L397.6 292.8 L393.5 294.8 L389.5 296.5 L385.4 298.6 L381.3 300.6 L377.3 302.7 L373.2 304.8 L369.1 307.3 L365.1 309.3Z M363.4 311.0 L367.4 310.2 L371.4 308.5 L383.3 308.5 L387.2 306.9 L395.2 306.9 L399.1 305.2 L407.1 305.2 L411.0 303.5 L415.0 303.5 L419.0 301.9 L422.9 301.9 L426.9 300.2 L430.9 300.2 L434.8 298.6 L438.8 296.9 L442.8 296.9 L446.7 295.3 L450.7 295.3 L454.7 293.6 L458.6 291.9 L462.6 291.9 L466.6 290.3 L470.5 288.6 L474.5 287.0 L478.5 285.3 L482.4 285.3 L486.4 283.7 L490.4 282.0 L494.3 280.4 L498.3 278.7 L502.3 277.0 L506.2 275.4 L510.2 274.6 L514.2 273.3 L518.1 271.7 L522.1 270.0 L526.1 268.3 L530.0 266.3 L534.0 264.6 L538.0 262.5 L541.9 260.5 L545.9 258.4 L549.9 256.3 L553.8 254.3 L557.8 252.2 L561.8 249.7 L557.8 248.9 L553.8 248.9 L549.9 250.5 L538.0 250.5 L534.0 252.2 L526.1 252.2 L522.1 253.8 L518.1 253.8 L514.2 255.5 L510.2 255.5 L506.2 257.2 L502.3 257.2 L498.3 258.8 L494.3 258.8 L490.4 260.5 L486.4 260.5 L482.4 262.1 L478.5 263.8 L474.5 263.8 L470.5 265.4 L466.6 267.1 L462.6 267.1 L458.6 268.8 L454.7 270.4 L450.7 272.1 L446.7 272.1 L442.8 273.7 L438.8 275.4 L434.8 277.0 L430.9 278.7 L426.9 280.4 L422.9 281.2 L419.0 282.8 L415.0 284.5 L411.0 287.4 L407.1 289.0 L403.1 290.7 L399.1 292.4 L395.2 294.4 L391.2 296.1 L387.2 298.2 L383.3 300.2 L379.3 302.3 L375.3 304.4 L371.4 306.4 L367.4 308.5Z M365.9 310.2 L377.5 310.2 L381.3 308.5 L392.9 308.5 L396.8 306.9 L404.6 306.9 L408.4 305.2 L412.3 305.2 L416.2 303.5 L420.0 303.5 L423.9 301.9 L427.8 301.9 L431.6 300.2 L435.5 300.2 L439.4 298.6 L443.3 296.9 L447.1 296.9 L451.0 295.3 L454.9 295.3 L458.7 293.6 L462.6 291.9 L466.5 291.9 L470.3 290.3 L474.2 288.6 L478.1 287.0 L481.9 285.3 L485.8 285.3 L489.7 283.7 L493.6 282.0 L497.4 280.4 L501.3 278.7 L505.2 277.0 L509.0 275.4 L512.9 273.7 L516.8 272.1 L520.6 270.4 L524.5 268.3 L528.4 266.7 L532.3 265.0 L536.1 263.0 L540.0 261.3 L543.9 259.2 L547.7 257.2 L551.6 255.1 L555.5 253.0 L559.3 250.5 L555.5 252.2 L540.0 252.2 L536.1 253.8 L528.4 253.8 L524.5 255.5 L520.6 255.5 L516.8 257.2 L509.0 257.2 L505.2 258.8 L501.3 258.8 L497.4 260.5 L493.6 260.5 L489.7 262.1 L485.8 263.8 L481.9 263.8 L478.1 265.4 L474.2 265.4 L470.3 267.1 L466.5 268.8 L462.6 268.8 L458.7 270.4 L454.9 272.1 L451.0 273.7 L447.1 273.7 L443.3 275.4 L439.4 277.0 L435.5 278.7 L431.6 279.5 L427.8 281.2 L423.9 282.8 L420.0 284.5 L416.2 286.1 L412.3 287.0 L408.4 288.6 L404.6 290.3 L400.7 292.4 L396.8 294.0 L392.9 295.7 L389.1 297.7 L385.2 299.4 L381.3 301.5 L377.5 303.5 L373.6 305.6 L369.7 307.7Z M368.3 309.3 L372.1 310.2 L375.8 310.2 L379.6 308.5 L390.9 308.5 L394.7 306.9 L402.2 306.9 L406.0 305.2 L413.6 305.2 L417.3 303.5 L421.1 303.5 L424.9 301.9 L428.6 301.9 L432.4 300.2 L436.2 300.2 L440.0 298.6 L443.7 296.9 L447.5 296.9 L451.3 295.3 L455.1 295.3 L458.8 293.6 L462.6 291.9 L466.4 291.9 L470.1 290.3 L473.9 288.6 L477.7 287.0 L481.5 287.0 L485.2 285.3 L489.0 283.7 L492.8 282.0 L496.6 280.4 L500.3 279.5 L504.1 277.9 L507.9 276.2 L511.6 273.7 L515.4 272.1 L519.2 270.4 L523.0 268.8 L526.7 267.1 L530.5 265.4 L534.3 263.4 L538.1 261.7 L541.8 259.6 L545.6 257.6 L549.4 255.5 L553.1 253.4 L556.9 251.4 L553.1 252.2 L549.4 252.2 L545.6 253.8 L534.3 253.8 L530.5 255.5 L523.0 255.5 L519.2 257.2 L515.4 257.2 L511.6 258.8 L507.9 258.8 L504.1 260.5 L500.3 260.5 L496.6 262.1 L492.8 262.1 L489.0 263.8 L485.2 263.8 L481.5 265.4 L477.7 265.4 L473.9 267.1 L470.1 267.1 L466.4 268.8 L462.6 270.4 L458.8 272.1 L455.1 272.1 L451.3 273.7 L447.5 275.4 L443.7 277.0 L440.0 277.0 L436.2 278.7 L432.4 280.4 L428.6 282.0 L424.9 282.8 L421.1 284.5 L417.3 286.1 L413.6 287.0 L409.8 288.6 L406.0 290.3 L402.2 291.9 L398.5 293.6 L394.7 295.3 L390.9 297.3 L387.1 299.0 L383.4 301.1 L379.6 303.1 L375.8 305.2 L372.1 307.3Z M370.7 308.5 L389.1 308.5 L392.8 306.9 L400.1 306.9 L403.8 305.2 L411.1 305.2 L414.8 303.5 L418.5 303.5 L422.2 301.9 L425.8 301.9 L429.5 300.2 L433.2 300.2 L436.9 298.6 L440.5 298.6 L444.2 296.9 L447.9 296.9 L451.6 295.3 L455.2 293.6 L458.9 293.6 L462.6 291.9 L466.3 290.3 L470.0 290.3 L473.6 288.6 L477.3 287.0 L481.0 287.0 L484.7 285.3 L488.3 283.7 L492.0 282.0 L495.7 281.2 L499.4 279.5 L503.0 277.9 L506.7 276.2 L510.4 273.7 L514.1 272.5 L517.7 270.8 L521.4 269.2 L525.1 267.5 L528.8 265.9 L532.4 263.8 L536.1 262.1 L539.8 260.1 L543.5 258.4 L547.1 256.3 L550.8 254.3 L554.5 252.2 L550.8 253.8 L539.8 253.8 L536.1 255.5 L528.8 255.5 L525.1 257.2 L517.7 257.2 L514.1 258.8 L506.7 258.8 L503.0 260.5 L499.4 260.5 L495.7 262.1 L492.0 262.1 L488.3 263.8 L484.7 263.8 L481.0 265.4 L477.3 267.1 L473.6 267.1 L470.0 268.8 L466.3 268.8 L462.6 270.4 L458.9 272.1 L455.2 272.1 L451.6 273.7 L447.9 275.4 L444.2 277.0 L440.5 277.0 L436.9 278.7 L433.2 280.4 L429.5 282.0 L425.8 282.8 L422.2 284.5 L418.5 286.1 L414.8 287.0 L411.1 288.2 L407.5 289.9 L403.8 291.5 L400.1 293.2 L396.4 294.8 L392.8 296.9 L389.1 298.6 L385.4 300.6 L381.7 302.3 L378.1 304.4 L374.4 306.4Z M373.1 307.7 L376.7 308.5 L380.3 308.5 L383.9 306.9 L394.6 306.9 L398.2 305.2 L405.3 305.2 L408.9 303.5 L416.1 303.5 L419.7 301.9 L423.2 301.9 L426.8 300.2 L430.4 300.2 L434.0 298.6 L437.6 298.6 L441.1 296.9 L444.7 296.9 L448.3 295.3 L451.9 295.3 L455.4 293.6 L459.0 291.9 L462.6 291.9 L466.2 290.3 L469.8 288.6 L473.3 288.6 L476.9 287.0 L480.5 285.3 L484.1 283.7 L487.6 283.7 L491.2 282.0 L494.8 280.4 L498.4 278.7 L502.0 277.9 L505.5 276.2 L509.1 274.1 L512.7 272.5 L516.3 270.8 L519.9 269.2 L523.4 267.9 L527.0 266.3 L530.6 264.2 L534.2 262.5 L537.7 260.9 L541.3 258.8 L544.9 257.2 L548.5 255.1 L552.1 253.0 L548.5 253.8 L541.3 253.8 L537.7 255.5 L527.0 255.5 L523.4 257.2 L516.3 257.2 L512.7 258.8 L509.1 258.8 L505.5 260.5 L498.4 260.5 L494.8 262.1 L491.2 262.1 L487.6 263.8 L484.1 263.8 L480.5 265.4 L476.9 265.4 L473.3 267.1 L469.8 268.8 L466.2 268.8 L462.6 270.4 L459.0 272.1 L455.4 272.1 L451.9 273.7 L448.3 275.4 L444.7 275.4 L441.1 277.0 L437.6 278.7 L434.0 280.4 L430.4 281.2 L426.8 282.8 L423.2 284.5 L419.7 285.3 L416.1 286.6 L412.5 288.2 L408.9 289.9 L405.3 291.5 L401.8 292.8 L398.2 294.4 L394.6 296.5 L391.0 298.2 L387.5 299.8 L383.9 301.9 L380.3 303.5 L376.7 305.6Z M375.6 306.9 L379.0 305.2 L393.0 305.2 L396.5 303.5 L403.4 303.5 L406.9 301.9 L413.9 301.9 L417.3 300.2 L420.8 300.2 L424.3 298.6 L431.3 298.6 L434.7 296.9 L438.2 296.9 L441.7 295.3 L445.2 295.3 L448.7 293.6 L452.2 293.6 L455.6 291.9 L459.1 290.3 L462.6 290.3 L466.1 288.6 L469.6 287.0 L473.0 287.0 L476.5 285.3 L480.0 283.7 L483.5 283.7 L487.0 282.0 L490.5 280.4 L493.9 278.7 L497.4 277.9 L500.9 276.2 L504.4 274.6 L507.9 274.1 L511.3 272.9 L514.8 271.2 L518.3 269.6 L521.8 267.9 L525.3 266.3 L528.7 264.6 L532.2 263.0 L535.7 261.3 L539.2 259.6 L542.7 257.6 L546.2 255.5 L549.6 253.8 L532.2 253.8 L528.7 255.5 L521.8 255.5 L518.3 257.2 L511.3 257.2 L507.9 258.8 L500.9 258.8 L497.4 260.5 L493.9 260.5 L490.5 262.1 L487.0 262.1 L483.5 263.8 L480.0 263.8 L476.5 265.4 L473.0 267.1 L469.6 267.1 L466.1 268.8 L462.6 268.8 L459.1 270.4 L455.6 272.1 L452.2 272.1 L448.7 273.7 L445.2 275.4 L441.7 275.4 L438.2 277.0 L434.7 278.7 L431.3 280.4 L427.8 281.2 L424.3 282.8 L420.8 284.5 L417.3 286.6 L413.9 287.8 L410.4 289.5 L406.9 291.1 L403.4 292.8 L399.9 294.4 L396.5 296.1 L393.0 297.7 L389.5 299.4 L386.0 301.1 L382.5 303.1 L379.0 305.2Z M378.0 306.0 L381.4 306.9 L388.1 306.9 L391.5 305.2 L401.7 305.2 L405.1 303.5 L411.8 303.5 L415.2 301.9 L422.0 301.9 L425.4 300.2 L428.8 300.2 L432.1 298.6 L435.5 298.6 L438.9 296.9 L442.3 296.9 L445.7 295.3 L449.1 295.3 L452.4 293.6 L455.8 293.6 L459.2 291.9 L462.6 291.9 L466.0 290.3 L469.4 288.6 L472.8 288.6 L476.1 287.0 L479.5 285.3 L482.9 283.7 L486.3 283.7 L489.7 282.0 L493.1 280.4 L496.4 279.5 L499.8 277.9 L503.2 277.0 L506.6 274.6 L510.0 272.9 L513.4 271.7 L516.7 270.0 L520.1 268.3 L523.5 266.7 L526.9 265.0 L530.3 263.8 L533.7 261.7 L537.1 260.1 L540.4 258.4 L543.8 256.3 L547.2 254.7 L543.8 255.5 L537.1 255.5 L533.7 257.2 L523.5 257.2 L520.1 258.8 L513.4 258.8 L510.0 260.5 L503.2 260.5 L499.8 262.1 L496.4 262.1 L493.1 263.8 L489.7 263.8 L486.3 265.4 L482.9 265.4 L479.5 267.1 L476.1 267.1 L472.8 268.8 L469.4 268.8 L466.0 270.4 L462.6 270.4 L459.2 272.1 L455.8 273.7 L452.4 273.7 L449.1 275.4 L445.7 277.0 L442.3 277.0 L438.9 278.7 L435.5 280.4 L432.1 282.0 L428.8 282.8 L425.4 284.5 L422.0 285.3 L418.6 286.1 L415.2 287.8 L411.8 289.0 L408.5 290.7 L405.1 292.4 L401.7 294.0 L398.3 295.7 L394.9 296.9 L391.5 299.0 L388.1 300.6 L384.8 302.3 L381.4 304.4Z M380.4 305.6 L383.7 305.2 L390.3 305.2 L393.6 303.5 L403.4 303.5 L406.7 301.9 L413.3 301.9 L416.6 300.2 L423.2 300.2 L426.4 298.6 L429.7 298.6 L433.0 296.9 L436.3 296.9 L439.6 295.3 L442.9 295.3 L446.2 293.6 L449.5 293.6 L452.7 291.9 L456.0 291.9 L459.3 290.3 L462.6 290.3 L465.9 288.6 L469.2 288.6 L472.5 287.0 L475.7 285.3 L479.0 285.3 L482.3 283.7 L485.6 282.0 L488.9 281.2 L492.2 279.5 L495.5 278.7 L498.8 277.0 L502.0 275.4 L505.3 274.6 L508.6 273.3 L511.9 271.7 L515.2 270.4 L518.5 268.8 L521.8 267.1 L525.1 265.9 L528.3 264.2 L531.6 262.5 L534.9 260.9 L538.2 258.8 L541.5 257.2 L544.8 255.1 L541.5 255.5 L531.6 255.5 L528.3 257.2 L518.5 257.2 L515.2 258.8 L508.6 258.8 L505.3 260.5 L502.0 260.5 L498.8 262.1 L492.2 262.1 L488.9 263.8 L485.6 263.8 L482.3 265.4 L479.0 265.4 L475.7 267.1 L472.5 267.1 L469.2 268.8 L465.9 268.8 L462.6 270.4 L459.3 272.1 L456.0 272.1 L452.7 273.7 L449.5 275.4 L446.2 275.4 L442.9 277.0 L439.6 278.7 L436.3 279.5 L433.0 280.4 L429.7 282.0 L426.4 282.8 L423.2 284.5 L419.9 286.1 L416.6 287.4 L413.3 289.0 L410.0 290.3 L406.7 291.9 L403.4 293.6 L400.1 294.8 L396.9 296.5 L393.6 298.2 L390.3 299.8 L387.0 301.9 L383.7 303.5Z M382.8 304.8 L386.0 303.5 L398.8 303.5 L402.0 301.9 L408.4 301.9 L411.6 300.2 L417.9 300.2 L421.1 298.6 L427.5 298.6 L430.7 296.9 L437.1 296.9 L440.3 295.3 L443.5 295.3 L446.6 293.6 L449.8 293.6 L453.0 291.9 L456.2 291.9 L459.4 290.3 L462.6 288.6 L465.8 288.6 L469.0 287.0 L472.2 287.0 L475.4 285.3 L478.6 283.7 L481.7 283.7 L484.9 282.0 L488.1 281.2 L491.3 279.5 L494.5 278.7 L497.7 277.0 L500.9 275.4 L504.1 274.6 L507.3 273.3 L510.5 272.1 L513.6 270.4 L516.8 269.2 L520.0 267.5 L523.2 266.3 L526.4 264.6 L529.6 263.0 L532.8 261.3 L536.0 259.6 L539.2 258.0 L542.4 255.9 L539.2 255.5 L536.0 255.5 L532.8 257.2 L523.2 257.2 L520.0 258.8 L510.5 258.8 L507.3 260.5 L500.9 260.5 L497.7 262.1 L494.5 262.1 L491.3 263.8 L484.9 263.8 L481.7 265.4 L478.6 265.4 L475.4 267.1 L472.2 267.1 L469.0 268.8 L465.8 270.4 L462.6 270.4 L459.4 272.1 L456.2 272.1 L453.0 273.7 L449.8 275.4 L446.6 275.4 L443.5 277.0 L440.3 278.7 L437.1 279.5 L433.9 280.4 L430.7 282.0 L427.5 282.8 L424.3 284.5 L421.1 286.1 L417.9 287.4 L414.7 288.6 L411.6 290.3 L408.4 291.5 L405.2 293.2 L402.0 294.4 L398.8 296.1 L395.6 297.7 L392.4 299.4 L389.2 301.1 L386.0 302.7Z M385.3 304.0 L388.4 303.5 L400.7 303.5 L403.8 301.9 L413.1 301.9 L416.2 300.2 L422.4 300.2 L425.5 298.6 L428.6 298.6 L431.7 296.9 L437.9 296.9 L440.9 295.3 L444.0 295.3 L447.1 293.6 L450.2 293.6 L453.3 291.9 L456.4 291.9 L459.5 290.3 L462.6 290.3 L465.7 288.6 L468.8 288.6 L471.9 287.0 L475.0 285.3 L478.1 285.3 L481.2 283.7 L484.3 282.0 L487.3 281.2 L490.4 280.4 L493.5 278.7 L496.6 277.9 L499.7 276.2 L502.8 275.0 L505.9 273.7 L509.0 272.1 L512.1 270.8 L515.2 269.6 L518.3 267.9 L521.4 266.7 L524.5 265.0 L527.6 263.4 L530.6 262.1 L533.7 260.5 L536.8 258.4 L539.9 256.7 L536.8 257.2 L530.6 257.2 L527.6 258.8 L518.3 258.8 L515.2 260.5 L509.0 260.5 L505.9 262.1 L499.7 262.1 L496.6 263.8 L490.4 263.8 L487.3 265.4 L484.3 265.4 L481.2 267.1 L478.1 267.1 L475.0 268.8 L471.9 268.8 L468.8 270.4 L465.7 270.4 L462.6 272.1 L459.5 272.1 L456.4 273.7 L453.3 273.7 L450.2 275.4 L447.1 277.0 L444.0 277.0 L440.9 278.7 L437.9 279.5 L434.8 281.2 L431.7 282.0 L428.6 283.7 L425.5 284.5 L422.4 285.7 L419.3 287.0 L416.2 288.6 L413.1 289.9 L410.0 291.1 L406.9 292.8 L403.8 294.0 L400.7 295.7 L397.6 297.3 L394.6 298.6 L391.5 300.2 L388.4 302.3Z M387.7 303.1 L390.7 303.5 L393.7 301.9 L405.7 301.9 L408.7 300.2 L417.7 300.2 L420.7 298.6 L426.6 298.6 L429.6 296.9 L432.6 296.9 L435.6 295.3 L441.6 295.3 L444.6 293.6 L447.6 293.6 L450.6 291.9 L453.6 291.9 L456.6 290.3 L459.6 290.3 L462.6 288.6 L465.6 288.6 L468.6 287.0 L471.6 287.0 L474.6 285.3 L477.6 283.7 L480.6 283.7 L483.6 282.0 L486.6 281.2 L489.6 279.5 L492.6 278.7 L495.6 277.9 L498.6 276.2 L501.5 275.0 L504.5 273.7 L507.5 272.5 L510.5 271.2 L513.5 270.0 L516.5 268.3 L519.5 267.1 L522.5 265.4 L525.5 264.2 L528.5 262.5 L531.5 260.9 L534.5 259.2 L537.5 257.6 L534.5 257.2 L531.5 257.2 L528.5 258.8 L516.5 258.8 L513.5 260.5 L507.5 260.5 L504.5 262.1 L498.6 262.1 L495.6 263.8 L489.6 263.8 L486.6 265.4 L483.6 265.4 L480.6 267.1 L477.6 267.1 L474.6 268.8 L471.6 268.8 L468.6 270.4 L465.6 270.4 L462.6 272.1 L459.6 272.1 L456.6 273.7 L453.6 273.7 L450.6 275.4 L447.6 277.0 L444.6 277.0 L441.6 278.7 L438.6 279.5 L435.6 280.4 L432.6 282.0 L429.6 282.8 L426.6 284.5 L423.7 285.7 L420.7 287.0 L417.7 288.2 L414.7 289.5 L411.7 290.7 L408.7 292.4 L405.7 293.6 L402.7 295.3 L399.7 296.5 L396.7 298.2 L393.7 299.8 L390.7 301.5Z M390.1 302.3 L393.0 303.5 L398.8 303.5 L401.7 301.9 L410.4 301.9 L413.3 300.2 L422.0 300.2 L424.9 298.6 L430.7 298.6 L433.6 296.9 L439.4 296.9 L442.3 295.3 L445.2 295.3 L448.1 293.6 L451.0 293.6 L453.9 291.9 L456.8 291.9 L459.7 290.3 L462.6 290.3 L465.5 288.6 L468.4 288.6 L471.3 287.0 L474.2 287.0 L477.1 285.3 L480.0 283.7 L482.9 283.7 L485.8 282.0 L488.7 281.2 L491.6 279.5 L494.5 278.7 L497.4 277.9 L500.3 275.4 L503.2 274.1 L506.1 272.9 L509.0 271.7 L511.9 270.0 L514.8 268.8 L517.7 267.5 L520.6 265.9 L523.5 264.6 L526.4 263.0 L529.3 261.7 L532.2 260.1 L535.1 258.4 L532.2 260.5 L517.7 260.5 L514.8 262.1 L506.1 262.1 L503.2 263.8 L497.4 263.8 L494.5 265.4 L488.7 265.4 L485.8 267.1 L482.9 267.1 L480.0 268.8 L477.1 268.8 L474.2 270.4 L468.4 270.4 L465.5 272.1 L462.6 272.1 L459.7 273.7 L456.8 275.4 L453.9 275.4 L451.0 277.0 L448.1 277.0 L445.2 278.7 L442.3 280.4 L439.4 280.4 L436.5 282.0 L433.6 282.8 L430.7 284.5 L427.8 285.3 L424.9 285.3 L422.0 286.6 L419.1 287.8 L416.2 289.0 L413.3 290.7 L410.4 291.9 L407.5 293.2 L404.6 294.8 L401.7 296.1 L398.8 297.7 L395.9 299.0 L393.0 300.6Z M392.6 301.5 L395.4 301.9 L409.4 301.9 L412.2 300.2 L420.6 300.2 L423.4 298.6 L429.0 298.6 L431.8 296.9 L437.4 296.9 L440.2 295.3 L443.0 295.3 L445.8 293.6 L451.4 293.6 L454.2 291.9 L457.0 291.9 L459.8 290.3 L462.6 290.3 L465.4 288.6 L468.2 288.6 L471.0 287.0 L473.8 285.3 L476.6 285.3 L479.4 283.7 L482.2 283.7 L485.0 282.0 L487.8 281.2 L490.6 280.4 L493.4 278.7 L496.2 277.9 L499.0 275.4 L501.8 274.1 L504.6 272.9 L507.4 271.7 L510.2 270.4 L513.0 269.2 L515.8 267.9 L518.6 266.3 L521.4 265.0 L524.2 263.8 L527.0 262.1 L529.8 260.9 L532.6 259.2 L529.8 260.5 L521.4 260.5 L518.6 262.1 L510.2 262.1 L507.4 263.8 L499.0 263.8 L496.2 265.4 L490.6 265.4 L487.8 267.1 L482.2 267.1 L479.4 268.8 L476.6 268.8 L473.8 270.4 L471.0 270.4 L468.2 272.1 L465.4 272.1 L462.6 273.7 L459.8 273.7 L457.0 275.4 L454.2 275.4 L451.4 277.0 L448.6 277.0 L445.8 278.7 L443.0 280.4 L440.2 280.4 L437.4 282.0 L434.6 282.8 L431.8 283.7 L429.0 285.3 L426.2 285.3 L423.4 286.6 L420.6 287.8 L417.8 289.0 L415.0 290.3 L412.2 291.5 L409.4 292.8 L406.6 294.4 L403.8 295.7 L401.0 296.9 L398.2 298.6 L395.4 299.8Z M395.0 300.6 L397.7 301.9 L400.4 301.9 L403.1 300.2 L413.9 300.2 L416.6 298.6 L424.7 298.6 L427.4 296.9 L432.8 296.9 L435.6 295.3 L441.0 295.3 L443.7 293.6 L449.1 293.6 L451.8 291.9 L454.5 291.9 L457.2 290.3 L459.9 290.3 L462.6 288.6 L465.3 288.6 L468.0 287.0 L470.7 287.0 L473.4 285.3 L476.1 285.3 L478.8 283.7 L481.5 282.0 L484.2 282.0 L486.9 280.4 L489.6 279.5 L492.4 278.7 L495.1 277.9 L497.8 275.8 L500.5 274.6 L503.2 273.3 L505.9 272.1 L508.6 270.8 L511.3 269.6 L514.0 268.3 L516.7 267.1 L519.4 265.4 L522.1 264.2 L524.8 263.0 L527.5 261.3 L530.2 260.1 L527.5 260.5 L524.8 260.5 L522.1 262.1 L511.3 262.1 L508.6 263.8 L500.5 263.8 L497.8 265.4 L489.6 265.4 L486.9 267.1 L484.2 267.1 L481.5 268.8 L476.1 268.8 L473.4 270.4 L470.7 270.4 L468.0 272.1 L465.3 272.1 L462.6 273.7 L459.9 273.7 L457.2 275.4 L454.5 275.4 L451.8 277.0 L449.1 277.0 L446.4 278.7 L443.7 278.7 L441.0 280.4 L438.3 281.2 L435.6 282.8 L432.8 283.7 L430.1 284.5 L427.4 284.9 L424.7 286.1 L422.0 287.4 L419.3 288.6 L416.6 289.9 L413.9 291.1 L411.2 292.4 L408.5 293.6 L405.8 295.3 L403.1 296.5 L400.4 297.7 L397.7 299.4Z M397.4 300.0 L400.0 299.4 L402.6 299.4 L405.2 298.6 L410.4 298.6 L413.1 297.7 L418.3 297.7 L420.9 296.9 L423.5 296.9 L426.1 296.1 L428.7 296.1 L431.3 295.3 L433.9 294.4 L436.5 294.4 L439.1 293.6 L441.7 292.8 L444.3 292.8 L447.0 291.9 L449.6 291.1 L452.2 290.3 L454.8 289.5 L457.4 289.5 L460.0 288.6 L462.6 287.8 L465.2 287.0 L467.8 286.1 L470.4 285.3 L473.0 284.5 L475.6 283.7 L478.2 282.8 L480.9 281.2 L483.5 280.4 L486.1 279.5 L488.7 278.7 L491.3 277.5 L493.9 276.6 L496.5 275.8 L499.1 274.8 L501.7 273.5 L504.3 272.3 L506.9 271.2 L509.5 270.0 L512.1 268.8 L514.8 267.5 L517.4 266.1 L520.0 264.8 L522.6 263.6 L525.2 262.1 L527.8 260.7 L525.2 260.5 L520.0 260.5 L517.4 261.3 L514.8 261.3 L512.1 262.1 L506.9 262.1 L504.3 263.0 L501.7 263.0 L499.1 263.8 L496.5 263.8 L493.9 264.6 L491.3 265.4 L488.7 265.4 L486.1 266.3 L483.5 267.1 L480.9 267.1 L478.2 267.9 L475.6 268.8 L473.0 269.6 L470.4 269.6 L467.8 270.4 L465.2 271.2 L462.6 272.1 L460.0 272.9 L457.4 273.7 L454.8 274.6 L452.2 275.4 L449.6 276.2 L447.0 277.0 L444.3 278.7 L441.7 279.1 L439.1 280.4 L436.5 281.2 L433.9 282.4 L431.3 283.2 L428.7 284.9 L426.1 285.9 L423.5 287.2 L420.9 288.4 L418.3 289.5 L415.7 290.7 L413.1 291.9 L410.4 293.2 L407.8 294.6 L405.2 295.9 L402.6 297.1 L400.0 298.6Z M399.8 299.2 L402.3 299.4 L404.9 299.4 L407.4 298.6 L412.4 298.6 L414.9 297.7 L419.9 297.7 L422.4 296.9 L424.9 296.9 L427.4 296.1 L430.0 296.1 L432.5 295.3 L435.0 294.4 L437.5 294.4 L440.0 293.6 L442.5 293.6 L445.0 292.8 L447.5 291.9 L450.0 291.1 L452.6 291.1 L455.1 290.3 L457.6 289.5 L460.1 288.6 L462.6 287.8 L465.1 287.0 L467.6 286.1 L470.1 285.3 L472.6 284.5 L475.2 283.7 L477.7 282.8 L480.2 282.0 L482.7 281.2 L485.2 280.4 L487.7 279.1 L490.2 278.3 L492.7 277.0 L495.2 276.0 L497.8 275.0 L500.3 273.7 L502.8 272.7 L505.3 271.4 L507.8 270.4 L510.3 269.2 L512.8 267.9 L515.3 266.7 L517.8 265.4 L520.3 264.2 L522.9 262.7 L525.4 261.5 L522.9 262.1 L515.3 262.1 L512.8 263.0 L507.8 263.0 L505.3 263.8 L502.8 263.8 L500.3 264.6 L497.8 264.6 L495.2 265.4 L492.7 265.4 L490.2 266.3 L487.7 267.1 L485.2 267.1 L482.7 267.9 L480.2 268.8 L477.7 268.8 L475.2 269.6 L472.6 270.4 L470.1 271.2 L467.6 271.2 L465.1 272.1 L462.6 272.9 L460.1 273.7 L457.6 274.6 L455.1 275.4 L452.6 276.2 L450.0 277.0 L447.5 277.9 L445.0 278.7 L442.5 279.9 L440.0 280.8 L437.5 282.0 L435.0 282.8 L432.5 284.1 L430.0 284.7 L427.4 285.7 L424.9 287.0 L422.4 288.0 L419.9 289.3 L417.4 290.3 L414.9 291.5 L412.4 292.8 L409.9 294.0 L407.4 295.3 L404.9 296.5 L402.3 298.0Z M402.3 298.6 L411.9 298.6 L414.3 297.7 L416.7 297.7 L419.2 296.9 L424.0 296.9 L426.4 296.1 L428.8 296.1 L431.2 295.3 L433.6 295.3 L436.0 294.4 L438.5 294.4 L440.9 293.6 L443.3 292.8 L445.7 292.8 L448.1 291.9 L450.5 291.1 L452.9 290.3 L455.4 290.3 L457.8 289.5 L460.2 288.6 L462.6 287.8 L465.0 287.0 L467.4 286.1 L469.8 285.3 L472.3 284.5 L474.7 283.7 L477.1 282.8 L479.5 282.0 L481.9 281.6 L484.3 280.4 L486.7 279.5 L489.2 278.7 L491.6 277.5 L494.0 276.2 L496.4 275.2 L498.8 273.9 L501.2 272.9 L503.6 271.9 L506.0 270.6 L508.5 269.6 L510.9 268.3 L513.3 267.3 L515.7 266.1 L518.1 264.8 L520.5 263.6 L522.9 262.1 L520.5 263.0 L515.7 263.0 L513.3 263.8 L508.5 263.8 L506.0 264.6 L501.2 264.6 L498.8 265.4 L496.4 265.4 L494.0 266.3 L491.6 266.3 L489.2 267.1 L486.7 267.9 L484.3 267.9 L481.9 268.8 L479.5 268.8 L477.1 269.6 L474.7 270.4 L472.3 271.2 L469.8 271.2 L467.4 272.1 L465.0 272.9 L462.6 273.7 L460.2 274.6 L457.8 275.4 L455.4 276.2 L452.9 277.0 L450.5 277.9 L448.1 278.7 L445.7 279.5 L443.3 280.4 L440.9 281.2 L438.5 282.0 L436.0 283.2 L433.6 284.1 L431.2 284.5 L428.8 285.5 L426.4 286.8 L424.0 287.8 L421.6 288.8 L419.2 290.1 L416.7 291.1 L414.3 292.4 L411.9 293.4 L409.5 294.6 L407.1 295.9 L404.7 297.1Z M404.7 297.7 L407.0 297.7 L409.3 296.9 L416.3 296.9 L418.6 296.1 L420.9 296.1 L423.2 295.3 L427.8 295.3 L430.2 294.4 L432.5 294.4 L434.8 293.6 L437.1 293.6 L439.4 292.8 L441.7 292.8 L444.1 291.9 L446.4 291.1 L448.7 291.1 L451.0 290.3 L453.3 289.5 L455.6 288.6 L458.0 288.6 L460.3 287.8 L462.6 287.0 L464.9 286.1 L467.2 285.3 L469.6 284.5 L471.9 283.7 L474.2 282.8 L476.5 282.0 L478.8 281.2 L481.1 280.8 L483.5 279.9 L485.8 279.1 L488.1 277.9 L490.4 277.0 L492.7 276.2 L495.0 275.4 L497.4 274.3 L499.7 273.3 L502.0 272.3 L504.3 271.0 L506.6 270.0 L508.9 269.0 L511.3 267.7 L513.6 266.5 L515.9 265.4 L518.2 264.2 L520.5 263.0 L513.6 263.0 L511.3 263.8 L506.6 263.8 L504.3 264.6 L499.7 264.6 L497.4 265.4 L495.0 265.4 L492.7 266.3 L490.4 266.3 L488.1 267.1 L485.8 267.1 L483.5 267.9 L481.1 268.8 L478.8 268.8 L476.5 269.6 L474.2 270.4 L471.9 270.4 L469.6 271.2 L467.2 272.1 L464.9 272.9 L462.6 272.9 L460.3 273.7 L458.0 274.6 L455.6 275.4 L453.3 276.2 L451.0 277.0 L448.7 277.9 L446.4 278.7 L444.1 279.5 L441.7 280.4 L439.4 281.2 L437.1 282.4 L434.8 283.2 L432.5 284.5 L430.2 285.3 L427.8 286.4 L425.5 287.4 L423.2 288.4 L420.9 289.7 L418.6 290.7 L416.3 291.7 L413.9 293.0 L411.6 294.2 L409.3 295.3 L407.0 296.5Z M407.1 297.1 L409.3 296.9 L413.8 296.9 L416.0 296.1 L420.4 296.1 L422.6 295.3 L427.1 295.3 L429.3 294.4 L431.5 294.4 L433.7 293.6 L436.0 293.6 L438.2 292.8 L440.4 292.8 L442.6 291.9 L444.8 291.9 L447.1 291.1 L449.3 290.3 L451.5 290.3 L453.7 289.5 L455.9 288.6 L458.2 288.6 L460.4 287.8 L462.6 287.0 L464.8 286.1 L467.0 285.3 L469.3 285.3 L471.5 284.5 L473.7 283.7 L475.9 282.8 L478.1 282.0 L480.4 281.2 L482.6 280.4 L484.8 279.1 L487.0 278.3 L489.2 277.5 L491.5 276.4 L493.7 275.6 L495.9 274.6 L498.1 273.5 L500.3 272.5 L502.6 271.4 L504.8 270.4 L507.0 269.4 L509.2 268.3 L511.4 267.1 L513.7 266.1 L515.9 264.8 L518.1 263.6 L515.9 263.8 L513.7 263.8 L511.4 264.6 L504.8 264.6 L502.6 265.4 L500.3 265.4 L498.1 266.3 L493.7 266.3 L491.5 267.1 L489.2 267.1 L487.0 267.9 L484.8 267.9 L482.6 268.8 L480.4 269.6 L478.1 269.6 L475.9 270.4 L473.7 271.2 L471.5 271.2 L469.3 272.1 L467.0 272.9 L464.8 272.9 L462.6 273.7 L460.4 274.6 L458.2 275.4 L455.9 276.2 L453.7 277.0 L451.5 277.9 L449.3 278.7 L447.1 278.7 L444.8 279.9 L442.6 280.8 L440.4 281.6 L438.2 282.4 L436.0 283.2 L433.7 284.3 L431.5 285.1 L429.3 286.1 L427.1 287.2 L424.9 288.2 L422.6 289.3 L420.4 290.3 L418.2 291.3 L416.0 292.4 L413.8 293.6 L411.5 294.6 L409.3 295.9Z M409.5 296.3 L411.7 296.9 L413.8 296.1 L420.1 296.1 L422.3 295.3 L426.5 295.3 L428.6 294.4 L432.9 294.4 L435.0 293.6 L437.1 293.6 L439.3 292.8 L441.4 292.8 L443.5 291.9 L445.6 291.9 L447.7 291.1 L449.9 290.3 L452.0 290.3 L454.1 289.5 L456.2 288.6 L458.4 288.6 L460.5 287.8 L462.6 287.0 L464.7 286.1 L466.8 286.1 L469.0 285.3 L471.1 284.5 L473.2 283.7 L475.3 282.8 L477.5 282.0 L479.6 281.2 L481.7 280.8 L483.8 279.9 L485.9 278.7 L488.1 277.9 L490.2 276.6 L492.3 275.8 L494.4 274.8 L496.6 273.9 L498.7 272.9 L500.8 271.9 L502.9 270.8 L505.1 269.8 L507.2 268.8 L509.3 267.7 L511.4 266.7 L513.5 265.4 L515.7 264.4 L513.5 265.4 L505.1 265.4 L502.9 266.3 L498.7 266.3 L496.6 267.1 L494.4 267.1 L492.3 267.9 L490.2 267.9 L488.1 268.8 L485.9 268.8 L483.8 269.6 L481.7 269.6 L479.6 270.4 L477.5 270.4 L475.3 271.2 L473.2 271.2 L471.1 272.1 L469.0 272.9 L466.8 273.7 L464.7 273.7 L462.6 274.6 L460.5 275.4 L458.4 276.2 L456.2 276.2 L454.1 277.0 L452.0 277.9 L449.9 278.7 L447.7 279.5 L445.6 280.4 L443.5 281.2 L441.4 282.0 L439.3 282.8 L437.1 283.7 L435.0 284.1 L432.9 284.9 L430.8 285.9 L428.6 286.8 L426.5 287.8 L424.4 288.8 L422.3 289.9 L420.1 290.9 L418.0 291.9 L415.9 293.0 L413.8 294.0 L411.7 295.3Z M412.0 295.7 L414.0 294.4 L420.1 294.4 L422.1 293.6 L426.1 293.6 L428.2 292.8 L432.2 292.8 L434.2 291.9 L436.3 291.9 L438.3 291.1 L442.3 291.1 L444.4 290.3 L446.4 289.5 L448.4 289.5 L450.4 288.6 L452.5 288.6 L454.5 287.8 L456.5 287.0 L458.5 287.0 L460.6 286.1 L462.6 285.3 L464.6 285.3 L466.7 284.5 L468.7 283.7 L470.7 282.8 L472.7 282.0 L474.8 282.0 L476.8 281.2 L478.8 279.9 L480.8 279.5 L482.9 278.7 L484.9 277.9 L486.9 277.0 L488.9 276.8 L491.0 276.0 L493.0 275.0 L495.0 274.1 L497.0 273.3 L499.1 272.3 L501.1 271.2 L503.1 270.4 L505.1 269.4 L507.2 268.3 L509.2 267.3 L511.2 266.3 L513.2 265.0 L511.2 264.6 L507.2 264.6 L505.1 265.4 L499.1 265.4 L497.0 266.3 L493.0 266.3 L491.0 267.1 L488.9 267.1 L486.9 267.9 L484.9 267.9 L482.9 268.8 L480.8 268.8 L478.8 269.6 L476.8 269.6 L474.8 270.4 L472.7 270.4 L470.7 271.2 L468.7 272.1 L466.7 272.1 L464.6 272.9 L462.6 273.7 L460.6 274.6 L458.5 274.6 L456.5 275.4 L454.5 276.2 L452.5 277.0 L450.4 277.9 L448.4 278.7 L446.4 279.1 L444.4 279.9 L442.3 280.8 L440.3 281.6 L438.3 282.4 L436.3 283.9 L434.2 284.7 L432.2 285.7 L430.2 286.6 L428.2 287.4 L426.1 288.4 L424.1 289.5 L422.1 290.3 L420.1 291.3 L418.0 292.4 L416.0 293.4 L414.0 294.4Z M414.4 294.8 L416.3 294.4 L418.2 294.4 L420.2 293.6 L426.0 293.6 L427.9 292.8 L431.7 292.8 L433.7 291.9 L437.5 291.9 L439.5 291.1 L441.4 291.1 L443.3 290.3 L445.2 290.3 L447.2 289.5 L449.1 289.5 L451.0 288.6 L453.0 288.6 L454.9 287.8 L456.8 287.0 L458.7 287.0 L460.7 286.1 L462.6 285.3 L464.5 285.3 L466.5 284.5 L468.4 283.7 L470.3 282.8 L472.2 282.8 L474.2 282.0 L476.1 281.2 L478.0 280.4 L480.0 279.5 L481.9 278.7 L483.8 277.9 L485.7 277.5 L487.7 277.0 L489.6 276.2 L491.5 275.4 L493.5 274.3 L495.4 273.5 L497.3 272.7 L499.2 271.7 L501.2 270.8 L503.1 269.8 L505.0 269.0 L507.0 267.9 L508.9 266.9 L510.8 265.9 L508.9 265.4 L505.0 265.4 L503.1 266.3 L497.3 266.3 L495.4 267.1 L491.5 267.1 L489.6 267.9 L487.7 267.9 L485.7 268.8 L483.8 268.8 L481.9 269.6 L480.0 269.6 L478.0 270.4 L476.1 270.4 L474.2 271.2 L472.2 271.2 L470.3 272.1 L468.4 272.9 L466.5 272.9 L464.5 273.7 L462.6 274.6 L460.7 274.6 L458.7 275.4 L456.8 276.2 L454.9 276.2 L453.0 277.0 L451.0 277.9 L449.1 278.7 L447.2 279.5 L445.2 279.9 L443.3 280.8 L441.4 281.6 L439.5 282.4 L437.5 283.7 L435.6 284.5 L433.7 285.3 L431.7 286.4 L429.8 287.2 L427.9 288.0 L426.0 289.0 L424.0 289.9 L422.1 290.9 L420.2 291.7 L418.2 292.8 L416.3 293.8Z M416.8 294.2 L418.6 294.4 L424.1 294.4 L426.0 293.6 L431.5 293.6 L433.3 292.8 L437.0 292.8 L438.8 291.9 L440.6 291.9 L442.5 291.1 L444.3 291.1 L446.1 290.3 L447.9 290.3 L449.8 289.5 L451.6 289.5 L453.4 288.6 L455.3 288.6 L457.1 287.8 L458.9 287.8 L460.8 287.0 L462.6 286.1 L464.4 286.1 L466.3 285.3 L468.1 284.5 L469.9 283.7 L471.8 283.7 L473.6 282.8 L475.4 282.0 L477.3 281.6 L479.1 280.8 L480.9 279.9 L482.7 279.1 L484.6 278.7 L486.4 277.0 L488.2 276.4 L490.1 275.6 L491.9 274.8 L493.7 273.9 L495.6 273.1 L497.4 272.1 L499.2 271.2 L501.1 270.4 L502.9 269.4 L504.7 268.5 L506.6 267.5 L508.4 266.5 L506.6 267.1 L504.7 267.1 L502.9 267.9 L497.4 267.9 L495.6 268.8 L491.9 268.8 L490.1 269.6 L486.4 269.6 L484.6 270.4 L482.7 270.4 L480.9 271.2 L479.1 271.2 L477.3 272.1 L475.4 272.1 L473.6 272.9 L471.8 272.9 L469.9 273.7 L468.1 273.7 L466.3 274.6 L464.4 275.4 L462.6 275.4 L460.8 276.2 L458.9 277.0 L457.1 277.0 L455.3 277.9 L453.4 278.7 L451.6 279.5 L449.8 279.5 L447.9 280.4 L446.1 281.2 L444.3 282.0 L442.5 282.8 L440.6 283.2 L438.8 283.7 L437.0 284.3 L435.1 285.1 L433.3 285.9 L431.5 286.8 L429.6 287.6 L427.8 288.6 L426.0 289.5 L424.1 290.3 L422.3 291.3 L420.5 292.2 L418.6 293.2Z M419.2 293.4 L421.0 292.8 L427.9 292.8 L429.6 291.9 L434.8 291.9 L436.6 291.1 L438.3 291.1 L440.1 290.3 L443.5 290.3 L445.3 289.5 L447.0 289.5 L448.7 288.6 L450.5 288.6 L452.2 287.8 L453.9 287.8 L455.7 287.0 L457.4 287.0 L459.1 286.1 L460.9 286.1 L462.6 285.3 L464.3 284.5 L466.1 284.5 L467.8 283.7 L469.5 282.8 L471.3 282.8 L473.0 282.0 L474.7 281.2 L476.5 280.8 L478.2 279.9 L479.9 279.1 L481.7 278.7 L483.4 277.9 L485.1 277.2 L486.9 276.6 L488.6 275.8 L490.4 275.0 L492.1 274.1 L493.8 273.5 L495.6 272.7 L497.3 271.9 L499.0 270.8 L500.8 270.0 L502.5 269.2 L504.2 268.1 L506.0 267.3 L504.2 267.1 L502.5 267.1 L500.8 267.9 L493.8 267.9 L492.1 268.8 L488.6 268.8 L486.9 269.6 L483.4 269.6 L481.7 270.4 L479.9 270.4 L478.2 271.2 L476.5 271.2 L474.7 272.1 L473.0 272.1 L471.3 272.9 L469.5 272.9 L467.8 273.7 L466.1 273.7 L464.3 274.6 L462.6 275.4 L460.9 275.4 L459.1 276.2 L457.4 277.0 L455.7 277.0 L453.9 277.9 L452.2 278.7 L450.5 278.7 L448.7 279.9 L447.0 280.4 L445.3 281.2 L443.5 281.6 L441.8 282.4 L440.1 283.5 L438.3 284.1 L436.6 284.9 L434.8 285.7 L433.1 286.6 L431.4 287.2 L429.6 288.0 L427.9 288.8 L426.2 289.9 L424.4 290.7 L422.7 291.5 L421.0 292.6Z M421.7 292.6 L423.3 292.8 L424.9 291.9 L431.5 291.9 L433.1 291.1 L438.0 291.1 L439.7 290.3 L443.0 290.3 L444.6 289.5 L446.2 289.5 L447.9 288.6 L449.5 288.6 L451.1 287.8 L454.4 287.8 L456.1 287.0 L457.7 286.1 L459.3 286.1 L461.0 285.3 L462.6 285.3 L464.2 284.5 L465.9 284.5 L467.5 283.7 L469.1 282.8 L470.8 282.8 L472.4 282.0 L474.1 281.2 L475.7 280.8 L477.3 279.9 L479.0 279.5 L480.6 278.7 L482.2 278.3 L483.9 277.5 L485.5 276.8 L487.2 276.0 L488.8 275.4 L490.4 274.6 L492.1 273.7 L493.7 273.1 L495.3 272.3 L497.0 271.4 L498.6 270.6 L500.3 269.8 L501.9 269.0 L503.5 268.1 L501.9 267.9 L500.3 267.9 L498.6 268.8 L492.1 268.8 L490.4 269.6 L487.2 269.6 L485.5 270.4 L482.2 270.4 L480.6 271.2 L477.3 271.2 L475.7 272.1 L474.1 272.1 L472.4 272.9 L470.8 272.9 L469.1 273.7 L467.5 273.7 L465.9 274.6 L464.2 274.6 L462.6 275.4 L461.0 276.2 L459.3 276.2 L457.7 277.0 L456.1 277.9 L454.4 277.9 L452.8 278.7 L451.1 279.5 L449.5 279.9 L447.9 280.4 L446.2 281.2 L444.6 282.0 L443.0 282.4 L441.3 283.2 L439.7 283.9 L438.0 284.7 L436.4 285.3 L434.8 286.1 L433.1 287.0 L431.5 287.6 L429.9 288.4 L428.2 289.3 L426.6 290.1 L424.9 290.9 L423.3 291.7Z M424.1 291.9 L425.6 291.1 L427.2 291.1 L428.7 290.3 L434.9 290.3 L436.4 289.5 L439.5 289.5 L441.0 288.6 L444.1 288.6 L445.7 287.8 L448.7 287.8 L450.3 287.0 L451.8 287.0 L453.4 286.1 L454.9 286.1 L456.4 285.3 L458.0 285.3 L459.5 284.5 L461.1 284.5 L462.6 283.7 L464.1 283.7 L465.7 282.8 L467.2 282.8 L468.8 282.0 L470.3 281.2 L471.8 281.2 L473.4 280.4 L474.9 279.9 L476.5 279.1 L478.0 278.7 L479.5 277.9 L481.1 277.5 L482.6 277.7 L484.2 277.0 L485.7 276.4 L487.2 275.6 L488.8 275.0 L490.3 274.1 L491.9 273.5 L493.4 272.7 L494.9 271.9 L496.5 271.2 L498.0 270.4 L499.6 269.6 L501.1 268.8 L499.6 267.9 L496.5 267.9 L494.9 268.8 L488.8 268.8 L487.2 269.6 L484.2 269.6 L482.6 270.4 L479.5 270.4 L478.0 271.2 L474.9 271.2 L473.4 272.1 L471.8 272.1 L470.3 272.9 L468.8 272.9 L467.2 273.7 L465.7 273.7 L464.1 274.6 L462.6 274.6 L461.1 275.4 L459.5 276.2 L458.0 276.2 L456.4 277.0 L454.9 277.0 L453.4 277.9 L451.8 278.7 L450.3 279.1 L448.7 279.5 L447.2 280.4 L445.7 280.8 L444.1 281.6 L442.6 283.0 L441.0 283.7 L439.5 284.3 L438.0 285.1 L436.4 285.7 L434.9 286.6 L433.3 287.2 L431.8 288.0 L430.3 288.8 L428.7 289.5 L427.2 290.3 L425.6 291.1Z M426.5 291.1 L428.0 290.3 L433.7 290.3 L435.2 289.5 L439.5 289.5 L441.0 288.6 L445.3 288.6 L446.7 287.8 L449.6 287.8 L451.1 287.0 L452.5 287.0 L453.9 286.1 L455.4 286.1 L456.8 285.3 L458.3 285.3 L459.7 284.5 L461.2 284.5 L462.6 283.7 L464.0 283.7 L465.5 282.8 L466.9 282.8 L468.4 282.0 L469.8 282.0 L471.3 281.2 L472.7 280.4 L474.1 279.9 L475.6 279.5 L477.0 279.1 L478.5 278.3 L479.9 277.9 L481.4 277.9 L482.8 277.2 L484.2 276.6 L485.7 276.0 L487.1 275.2 L488.6 274.6 L490.0 273.9 L491.5 273.1 L492.9 272.5 L494.4 271.9 L495.8 271.0 L497.2 270.2 L498.7 269.6 L497.2 268.8 L495.8 268.8 L494.4 269.6 L488.6 269.6 L487.1 270.4 L482.8 270.4 L481.4 271.2 L478.5 271.2 L477.0 272.1 L474.1 272.1 L472.7 272.9 L471.3 272.9 L469.8 273.7 L468.4 273.7 L466.9 274.6 L465.5 274.6 L464.0 275.4 L462.6 275.4 L461.2 276.2 L459.7 276.2 L458.3 277.0 L456.8 277.0 L455.4 277.9 L453.9 278.7 L452.5 278.7 L451.1 279.5 L449.6 279.9 L448.2 280.4 L446.7 281.2 L445.3 281.6 L443.8 282.8 L442.4 283.5 L441.0 284.1 L439.5 284.7 L438.1 285.5 L436.6 286.1 L435.2 286.8 L433.7 287.6 L432.3 288.2 L430.8 288.8 L429.4 289.7 L428.0 290.5Z M428.9 290.5 L430.3 291.1 L431.6 291.1 L433.0 290.3 L439.7 290.3 L441.1 289.5 L443.8 289.5 L445.1 288.6 L449.1 288.6 L450.5 287.8 L451.8 287.8 L453.2 287.0 L455.9 287.0 L457.2 286.1 L458.6 286.1 L459.9 285.3 L461.3 285.3 L462.6 284.5 L463.9 284.5 L465.3 283.7 L466.6 283.7 L468.0 282.8 L469.3 282.8 L470.7 282.0 L472.0 282.0 L473.4 281.2 L474.7 280.8 L476.1 280.4 L477.4 279.5 L478.8 279.1 L480.1 278.1 L481.4 277.5 L482.8 276.8 L484.1 276.2 L485.5 275.6 L486.8 275.0 L488.2 274.3 L489.5 273.7 L490.9 273.1 L492.2 272.3 L493.6 271.7 L494.9 271.0 L496.3 270.2 L494.9 271.2 L488.2 271.2 L486.8 272.1 L482.8 272.1 L481.4 272.9 L477.4 272.9 L476.1 273.7 L473.4 273.7 L472.0 274.6 L470.7 274.6 L469.3 275.4 L466.6 275.4 L465.3 276.2 L463.9 276.2 L462.6 277.0 L461.3 277.0 L459.9 277.9 L458.6 277.9 L457.2 278.7 L455.9 278.7 L454.5 279.5 L453.2 280.4 L451.8 280.4 L450.5 281.2 L449.1 281.6 L447.8 282.0 L446.4 282.8 L445.1 282.6 L443.8 283.2 L442.4 283.9 L441.1 284.5 L439.7 285.1 L438.4 285.7 L437.0 286.4 L435.7 287.0 L434.3 287.6 L433.0 288.4 L431.6 289.0 L430.3 289.7Z M431.4 289.8 L432.6 288.6 L433.9 288.2 L436.4 288.2 L437.6 287.8 L440.1 287.8 L441.4 287.4 L442.6 287.4 L443.9 287.0 L445.1 287.0 L446.4 286.6 L447.6 286.6 L448.9 286.1 L450.1 286.1 L451.4 285.7 L452.6 285.3 L453.9 285.3 L455.1 284.9 L456.4 284.5 L457.6 284.1 L458.9 284.1 L460.1 283.7 L461.4 283.2 L462.6 282.8 L463.8 282.4 L465.1 282.0 L466.3 281.6 L467.6 281.2 L468.8 280.8 L470.1 280.4 L471.3 279.9 L472.6 279.5 L473.8 278.9 L475.1 278.5 L476.3 278.1 L477.6 277.5 L478.8 278.2 L480.1 277.7 L481.3 277.0 L482.6 276.5 L483.8 275.9 L485.1 275.4 L486.3 274.8 L487.6 274.1 L488.8 273.5 L490.1 272.9 L491.3 272.3 L492.6 271.7 L493.8 270.9 L492.6 270.0 L488.8 270.0 L487.6 270.4 L485.1 270.4 L483.8 270.8 L482.6 270.8 L481.3 271.2 L480.1 271.2 L478.8 271.7 L477.6 271.7 L476.3 272.1 L475.1 272.5 L473.8 272.5 L472.6 272.9 L471.3 273.3 L470.1 273.3 L468.8 273.7 L467.6 274.1 L466.3 274.6 L465.1 274.6 L463.8 275.0 L462.6 275.4 L461.4 275.8 L460.1 276.2 L458.9 276.6 L457.6 277.0 L456.4 277.5 L455.1 277.9 L453.9 278.3 L452.6 278.9 L451.4 279.3 L450.1 279.7 L448.9 280.4 L447.6 280.8 L446.4 282.5 L445.1 283.0 L443.9 283.7 L442.6 284.2 L441.4 284.8 L440.1 285.3 L438.9 285.9 L437.6 286.6 L436.4 287.2 L435.1 287.8 L433.9 288.4 L432.6 289.0Z M433.8 289.0 L435.0 289.9 L437.3 289.9 L438.4 289.5 L440.7 289.5 L441.9 289.0 L444.2 289.0 L445.3 288.6 L446.5 288.6 L447.6 288.2 L448.8 288.2 L449.9 287.8 L451.1 287.8 L452.2 287.4 L453.4 287.0 L454.5 287.0 L455.7 286.6 L456.8 286.1 L458.0 286.1 L459.1 285.7 L460.3 285.3 L461.4 284.9 L462.6 284.9 L463.8 284.5 L464.9 284.1 L466.1 283.7 L467.2 283.2 L468.4 282.8 L469.5 282.4 L470.7 282.0 L471.8 281.6 L473.0 281.2 L474.1 280.8 L475.3 280.1 L476.4 279.7 L477.6 278.3 L478.7 277.9 L479.9 277.3 L481.0 276.8 L482.2 276.3 L483.3 275.8 L484.5 275.2 L485.6 274.7 L486.8 274.0 L487.9 273.5 L489.1 272.9 L490.2 272.3 L491.4 271.7 L490.2 272.9 L486.8 272.9 L485.6 273.3 L483.3 273.3 L482.2 273.7 L479.9 273.7 L478.7 274.1 L477.6 274.1 L476.4 274.6 L475.3 274.6 L474.1 275.0 L473.0 275.4 L471.8 275.4 L470.7 275.8 L469.5 276.2 L468.4 276.2 L467.2 276.6 L466.1 277.0 L464.9 277.0 L463.8 277.5 L462.6 277.9 L461.4 278.3 L460.3 278.7 L459.1 279.1 L458.0 279.5 L456.8 279.9 L455.7 280.4 L454.5 280.8 L453.4 281.0 L452.2 281.4 L451.1 282.0 L449.9 282.4 L448.8 282.8 L447.6 282.4 L446.5 282.8 L445.3 283.4 L444.2 283.9 L443.0 284.4 L441.9 284.9 L440.7 285.5 L439.6 286.0 L438.4 286.7 L437.3 287.2 L436.1 287.8 L435.0 288.4Z M436.2 288.3 L437.3 288.2 L441.5 288.2 L442.6 287.8 L444.7 287.8 L445.7 287.4 L446.8 287.4 L447.8 287.0 L448.9 287.0 L449.9 286.6 L451.0 286.6 L452.0 286.1 L453.1 286.1 L454.2 285.7 L455.2 285.7 L456.3 285.3 L457.3 285.3 L458.4 284.9 L459.4 284.5 L460.5 284.5 L461.5 284.1 L462.6 283.7 L463.7 283.2 L464.7 282.8 L465.8 282.8 L466.8 282.4 L467.9 282.0 L468.9 281.6 L470.0 281.2 L471.0 280.8 L472.1 280.4 L473.2 279.9 L474.2 279.5 L475.3 279.1 L476.3 278.5 L477.4 278.1 L478.4 277.6 L479.5 277.1 L480.5 276.6 L481.6 276.1 L482.6 275.6 L483.7 275.2 L484.8 274.7 L485.8 274.0 L486.9 273.5 L487.9 273.0 L489.0 272.4 L487.9 272.9 L483.7 272.9 L482.6 273.3 L480.5 273.3 L479.5 273.7 L478.4 273.7 L477.4 274.1 L476.3 274.1 L475.3 274.6 L474.2 274.6 L473.2 275.0 L472.1 275.0 L471.0 275.4 L470.0 275.4 L468.9 275.8 L467.9 275.8 L466.8 276.2 L465.8 276.6 L464.7 276.6 L463.7 277.0 L462.6 277.5 L461.5 277.9 L460.5 278.3 L459.4 278.3 L458.4 278.7 L457.3 279.1 L456.3 279.5 L455.2 279.9 L454.2 280.4 L453.1 280.8 L452.0 281.2 L451.0 281.6 L449.9 282.0 L448.9 282.2 L447.8 282.6 L446.8 283.1 L445.7 283.6 L444.7 284.1 L443.6 284.6 L442.6 285.1 L441.5 285.5 L440.4 286.0 L439.4 286.7 L438.3 287.2 L437.3 287.7Z M438.7 287.6 L439.6 287.0 L440.6 286.6 L444.4 286.6 L445.4 286.1 L447.3 286.1 L448.2 285.7 L449.2 285.7 L450.1 285.3 L452.1 285.3 L453.0 284.9 L454.0 284.9 L454.9 284.5 L455.9 284.5 L456.9 284.1 L457.8 283.7 L458.8 283.7 L459.7 283.2 L460.7 283.2 L461.6 282.8 L462.6 282.4 L463.6 282.4 L464.5 282.0 L465.5 281.6 L466.4 281.2 L467.4 281.2 L468.3 280.8 L469.3 280.4 L470.3 279.9 L471.2 279.5 L472.2 279.1 L473.1 278.9 L474.1 278.5 L475.1 278.7 L476.0 278.3 L477.0 277.9 L477.9 277.5 L478.9 276.9 L479.8 276.5 L480.8 276.1 L481.8 275.6 L482.7 275.2 L483.7 274.7 L484.6 274.1 L485.6 273.6 L486.5 273.1 L485.6 272.5 L484.6 272.5 L483.7 272.9 L480.8 272.9 L479.8 273.3 L477.9 273.3 L477.0 273.7 L475.1 273.7 L474.1 274.1 L473.1 274.1 L472.2 274.6 L471.2 274.6 L470.3 275.0 L469.3 275.0 L468.3 275.4 L467.4 275.4 L466.4 275.8 L465.5 276.2 L464.5 276.2 L463.6 276.6 L462.6 277.0 L461.6 277.0 L460.7 277.5 L459.7 277.9 L458.8 278.3 L457.8 278.3 L456.9 278.7 L455.9 279.1 L454.9 279.5 L454.0 279.9 L453.0 280.1 L452.1 280.6 L451.1 281.0 L450.1 282.0 L449.2 282.4 L448.2 282.8 L447.3 283.2 L446.3 283.8 L445.4 284.2 L444.4 284.6 L443.4 285.1 L442.5 285.5 L441.5 286.0 L440.6 286.6 L439.6 287.1Z M441.1 286.9 L441.9 287.8 L442.8 287.4 L446.2 287.4 L447.1 287.0 L448.8 287.0 L449.7 286.6 L451.4 286.6 L452.3 286.1 L454.0 286.1 L454.9 285.7 L455.7 285.7 L456.6 285.3 L457.4 285.3 L458.3 284.9 L459.2 284.9 L460.0 284.5 L460.9 284.1 L461.7 284.1 L462.6 283.7 L463.5 283.7 L464.3 283.2 L465.2 282.8 L466.0 282.8 L466.9 282.4 L467.8 282.0 L468.6 281.6 L469.5 281.4 L470.3 281.2 L471.2 280.8 L472.1 280.4 L472.9 280.1 L473.8 278.8 L474.7 278.5 L475.5 278.1 L476.4 277.7 L477.2 277.3 L478.1 276.9 L479.0 276.5 L479.8 276.1 L480.7 275.7 L481.5 275.3 L482.4 274.8 L483.3 274.3 L484.1 273.8 L483.3 275.0 L479.8 275.0 L479.0 275.4 L476.4 275.4 L475.5 275.8 L473.8 275.8 L472.9 276.2 L472.1 276.2 L471.2 276.6 L470.3 276.6 L469.5 277.0 L468.6 277.0 L467.8 277.5 L466.9 277.5 L466.0 277.9 L465.2 277.9 L464.3 278.3 L463.5 278.3 L462.6 278.7 L461.7 279.1 L460.9 279.1 L460.0 279.5 L459.2 279.9 L458.3 279.9 L457.4 280.4 L456.6 280.8 L455.7 281.0 L454.9 281.4 L454.0 281.6 L453.1 282.0 L452.3 282.4 L451.4 281.9 L450.5 282.2 L449.7 282.6 L448.8 283.0 L448.0 283.4 L447.1 283.8 L446.2 284.2 L445.4 284.6 L444.5 285.0 L443.7 285.4 L442.8 285.9 L441.9 286.4Z M443.5 286.0 L444.3 286.1 L445.8 286.1 L446.6 285.7 L448.9 285.7 L449.6 285.3 L451.9 285.3 L452.7 284.9 L454.2 284.9 L455.0 284.5 L455.7 284.5 L456.5 284.1 L458.0 284.1 L458.8 283.7 L459.5 283.7 L460.3 283.2 L461.1 283.2 L461.8 282.8 L462.6 282.8 L463.4 282.4 L464.1 282.0 L464.9 282.0 L465.7 281.6 L466.4 281.6 L467.2 281.2 L467.9 280.8 L468.7 280.6 L469.5 280.4 L470.2 279.9 L471.0 279.7 L471.8 279.3 L472.5 279.0 L473.3 278.7 L474.1 278.4 L474.8 278.0 L475.6 277.7 L476.3 277.3 L477.1 276.9 L477.9 276.5 L478.6 276.2 L479.4 275.8 L480.2 275.4 L480.9 275.0 L481.7 274.7 L480.9 274.6 L480.2 274.6 L479.4 275.0 L476.3 275.0 L475.6 275.4 L474.1 275.4 L473.3 275.8 L471.8 275.8 L471.0 276.2 L469.5 276.2 L468.7 276.6 L467.9 276.6 L467.2 277.0 L466.4 277.0 L465.7 277.5 L464.9 277.5 L464.1 277.9 L463.4 277.9 L462.6 278.3 L461.8 278.3 L461.1 278.7 L460.3 278.7 L459.5 279.1 L458.8 279.5 L458.0 279.5 L457.3 279.9 L456.5 280.1 L455.7 280.6 L455.0 280.8 L454.2 281.2 L453.4 281.4 L452.7 281.7 L451.9 282.0 L451.1 282.3 L450.4 282.7 L449.6 283.0 L448.9 283.4 L448.1 283.8 L447.3 284.2 L446.6 284.5 L445.8 284.9 L445.0 285.3 L444.3 285.7Z M445.9 285.3 L446.6 286.6 L447.9 286.6 L448.6 286.1 L451.3 286.1 L451.9 285.7 L453.9 285.7 L454.6 285.3 L455.9 285.3 L456.6 284.9 L457.9 284.9 L458.6 284.5 L459.3 284.5 L459.9 284.1 L460.6 284.1 L461.3 283.7 L462.6 283.7 L463.3 283.2 L463.9 283.2 L464.6 282.8 L465.3 282.4 L465.9 282.4 L466.6 282.0 L467.3 282.0 L467.9 281.6 L468.6 281.4 L469.3 281.2 L469.9 281.0 L470.6 280.6 L471.3 279.2 L471.9 278.9 L472.6 278.6 L473.3 278.3 L473.9 278.0 L474.6 277.7 L475.3 277.3 L475.9 277.0 L476.6 276.7 L477.3 276.4 L477.9 276.0 L478.6 275.7 L479.3 275.4 L478.6 276.6 L475.9 276.6 L475.3 277.0 L472.6 277.0 L471.9 277.5 L470.6 277.5 L469.9 277.9 L468.6 277.9 L467.9 278.3 L466.6 278.3 L465.9 278.7 L465.3 278.7 L464.6 279.1 L463.9 279.1 L463.3 279.5 L462.6 279.5 L461.9 279.9 L461.3 279.9 L460.6 280.4 L459.9 280.4 L459.3 280.8 L458.6 280.8 L457.9 281.2 L457.3 281.4 L456.6 281.6 L455.9 281.8 L455.3 282.2 L454.6 282.4 L453.9 281.5 L453.3 281.8 L452.6 282.1 L451.9 282.4 L451.3 282.7 L450.6 283.0 L449.9 283.4 L449.3 283.7 L448.6 284.0 L447.9 284.3 L447.3 284.7 L446.6 285.0Z M448.4 284.6 L448.9 284.1 L451.8 284.1 L452.3 283.7 L454.6 283.7 L455.2 283.2 L456.9 283.2 L457.5 282.8 L458.6 282.8 L459.2 282.4 L460.3 282.4 L460.9 282.0 L461.5 282.0 L462.0 281.6 L463.2 281.6 L463.7 281.2 L464.3 281.2 L464.9 280.8 L465.4 280.8 L466.0 280.4 L466.6 280.4 L467.2 280.1 L467.7 279.9 L468.3 279.7 L468.9 279.3 L469.4 279.1 L470.0 279.3 L470.6 279.1 L471.1 278.9 L471.7 278.6 L472.3 278.4 L472.9 278.1 L473.4 277.8 L474.0 277.6 L474.6 277.2 L475.1 276.9 L475.7 276.6 L476.3 276.4 L476.8 276.1 L476.3 275.8 L473.4 275.8 L472.9 276.2 L470.6 276.2 L470.0 276.6 L468.3 276.6 L467.7 277.0 L466.6 277.0 L466.0 277.5 L464.9 277.5 L464.3 277.9 L463.7 277.9 L463.2 278.3 L462.0 278.3 L461.5 278.7 L460.9 278.7 L460.3 279.1 L459.8 279.1 L459.2 279.5 L458.6 279.5 L458.0 279.7 L457.5 279.9 L456.9 280.1 L456.3 280.6 L455.8 280.8 L455.2 281.4 L454.6 281.6 L454.1 281.8 L453.5 282.1 L452.9 282.3 L452.3 282.6 L451.8 282.9 L451.2 283.1 L450.6 283.5 L450.1 283.8 L449.5 284.1 L448.9 284.3Z M450.8 283.9 L451.3 283.2 L452.7 283.2 L453.1 282.8 L456.0 282.8 L456.5 282.4 L457.9 282.4 L458.3 282.0 L459.8 282.0 L460.2 281.6 L461.2 281.6 L461.7 281.2 L462.6 281.2 L463.1 280.8 L464.0 280.8 L464.5 280.4 L465.4 280.4 L465.9 279.9 L466.4 279.7 L466.9 279.5 L467.3 279.5 L467.8 279.3 L468.3 279.1 L468.7 279.5 L469.2 279.3 L469.7 279.1 L470.2 278.9 L470.6 278.7 L471.1 278.5 L471.6 278.3 L472.1 278.0 L472.5 277.8 L473.0 277.6 L473.5 277.2 L473.9 277.0 L474.4 276.8 L473.9 276.2 L471.6 276.2 L471.1 276.6 L468.7 276.6 L468.3 277.0 L466.9 277.0 L466.4 277.5 L465.0 277.5 L464.5 277.9 L463.5 277.9 L463.1 278.3 L462.1 278.3 L461.7 278.7 L460.7 278.7 L460.2 279.1 L459.8 279.1 L459.3 279.5 L458.8 279.5 L458.3 279.7 L457.9 279.9 L457.4 280.1 L456.9 280.4 L456.5 281.2 L456.0 281.4 L455.5 281.6 L455.0 281.8 L454.6 282.0 L454.1 282.2 L453.6 282.4 L453.1 282.7 L452.7 282.9 L452.2 283.1 L451.7 283.5 L451.3 283.7Z M453.2 283.1 L453.6 282.8 L456.6 282.8 L457.0 282.4 L458.8 282.4 L459.2 282.0 L460.3 282.0 L460.7 281.6 L462.2 281.6 L462.6 281.2 L463.4 281.2 L463.7 280.8 L464.5 280.8 L464.9 280.4 L465.6 280.4 L466.0 280.1 L466.4 279.9 L466.7 279.7 L467.5 279.7 L467.9 279.5 L468.2 279.3 L468.6 279.2 L469.0 279.0 L469.4 278.9 L469.7 278.7 L470.1 278.5 L470.5 278.3 L470.9 278.1 L471.2 278.0 L471.6 277.8 L472.0 277.6 L471.6 277.5 L469.0 277.5 L468.6 277.9 L466.7 277.9 L466.4 278.3 L464.9 278.3 L464.5 278.7 L463.4 278.7 L463.0 279.1 L461.8 279.1 L461.5 279.5 L460.7 279.5 L460.3 279.9 L460.0 279.9 L459.6 280.1 L459.2 280.1 L458.8 280.4 L458.5 280.6 L458.1 280.8 L457.7 281.0 L457.3 281.2 L457.0 281.4 L456.6 281.5 L456.2 281.7 L455.8 281.8 L455.5 282.0 L455.1 282.2 L454.7 282.4 L454.3 282.6 L454.0 282.7 L453.6 282.9Z M455.6 282.4 L455.9 281.6 L456.8 281.6 L457.0 281.2 L459.5 281.2 L459.8 280.8 L461.2 280.8 L461.5 280.4 L462.9 280.4 L463.2 279.9 L464.0 279.9 L464.3 279.5 L464.8 279.5 L465.1 279.3 L465.4 279.3 L465.7 279.1 L465.9 279.1 L466.2 279.8 L466.5 279.7 L466.8 279.6 L467.1 279.5 L467.3 279.4 L467.6 279.2 L467.9 279.1 L468.2 279.0 L468.4 278.8 L468.7 278.7 L469.0 278.6 L469.3 278.4 L469.6 278.3 L469.3 277.5 L466.8 277.5 L466.5 277.9 L464.5 277.9 L464.3 278.3 L463.2 278.3 L462.9 278.7 L461.8 278.7 L461.5 279.1 L460.7 279.1 L460.4 279.3 L460.1 279.5 L459.8 279.5 L459.5 279.7 L459.3 279.7 L459.0 280.9 L458.7 281.0 L458.4 281.1 L458.1 281.2 L457.9 281.3 L457.6 281.5 L457.3 281.6 L457.0 281.7 L456.8 281.9 L456.5 282.0 L456.2 282.1 L455.9 282.3Z M458.1 281.7 L458.2 282.0 L460.8 282.0 L461.0 281.6 L462.4 281.6 L462.6 281.2 L463.7 281.2 L463.9 280.8 L464.4 280.8 L464.6 280.6 L464.8 280.6 L465.0 280.0 L465.1 279.9 L465.3 279.8 L465.5 279.8 L465.7 279.7 L465.9 279.6 L466.0 279.5 L466.2 279.4 L466.4 279.3 L466.6 279.3 L466.8 279.2 L467.0 279.1 L467.1 279.0 L467.0 279.5 L465.0 279.5 L464.8 279.9 L463.1 279.9 L463.0 280.4 L461.9 280.4 L461.7 280.8 L461.0 280.8 L460.8 281.0 L460.4 281.0 L460.2 280.7 L460.1 280.8 L459.9 280.9 L459.7 280.9 L459.5 281.0 L459.3 281.1 L459.2 281.2 L459.0 281.3 L458.8 281.4 L458.6 281.4 L458.4 281.5 L458.2 281.6Z" fill="none" stroke="#231f20" stroke-width="1.3" stroke-linejoin="miter"/>
<g clip-path="url(#lens)" stroke="#fff" stroke-width="0.5" stroke-opacity="0.8" stroke-dasharray="5 2.2 2.4 2.2 7 3"><path d="M260 231.6 H670" stroke-dashoffset="0"/><path d="M260 241.6 H670" stroke-dashoffset="7"/><path d="M260 251.6 H670" stroke-dashoffset="14"/><path d="M260 261.8 H670" stroke-dashoffset="2"/><path d="M260 271.8 H670" stroke-dashoffset="9"/><path d="M260 281.9 H670" stroke-dashoffset="16"/><path d="M260 292.0 H670" stroke-dashoffset="4"/><path d="M260 302.3 H670" stroke-dashoffset="11"/><path d="M260 312.5 H670" stroke-dashoffset="18"/><path d="M260 322.6 H670" stroke-dashoffset="6"/><path d="M260 332.6 H670" stroke-dashoffset="13"/></g>
<path d="M215.33 541.80 v-8.0 M215.33 18.87 v8.0 M297.95 541.80 v-13.6 M297.95 18.87 v13.6 M380.57 541.80 v-8.0 M380.57 18.87 v8.0 M461.30 541.80 v-13.6 M461.30 18.87 v13.6 M543.90 541.80 v-8.0 M543.90 18.87 v8.0 M626.95 541.80 v-13.6 M626.95 18.87 v13.6 M709.15 541.80 v-8.0 M709.15 18.87 v8.0 M133.00 476.06 h13.3 M791.80 476.06 h-13.6 M133.00 411.47 h13.3 M791.80 411.47 h-13.6 M133.00 345.47 h13.3 M791.80 345.47 h-13.6 M133.00 281.04 h13.3 M791.80 281.04 h-13.6 M133.00 215.33 h13.3 M791.80 215.33 h-13.6 M133.00 149.06 h13.3 M791.80 149.06 h-13.6 M133.00 84.86 h13.3 M791.80 84.86 h-13.6" fill="none" stroke="#231f20" stroke-width="1.55"/>
<rect x="133.00" y="18.87" width="658.80" height="522.93" fill="none" stroke="#231f20" stroke-width="3.65"/>
<text x="116.8" y="547.7" text-anchor="end" font-size="37.3">-40</text>
<text x="116.8" y="482.0" text-anchor="end" font-size="37.3">-30</text>
<text x="116.8" y="417.4" text-anchor="end" font-size="37.3">-20</text>
<text x="116.8" y="351.4" text-anchor="end" font-size="37.3">-10</text>
<text x="116.8" y="286.9" text-anchor="end" font-size="37.3">0</text>
<text x="116.8" y="221.2" text-anchor="end" font-size="37.3">10</text>
<text x="116.8" y="155.0" text-anchor="end" font-size="37.3">20</text>
<text x="116.8" y="90.8" text-anchor="end" font-size="37.3">30</text>
<text x="116.8" y="24.8" text-anchor="end" font-size="37.3">40</text>
<text x="133.9" y="577.1" text-anchor="middle" font-size="37.3">-4</text>
<text x="298.8" y="577.1" text-anchor="middle" font-size="37.3">-2</text>
<text x="461.6" y="577.1" text-anchor="middle" font-size="37.3">0</text>
<text x="627.2" y="577.1" text-anchor="middle" font-size="37.3">2</text>
<text x="792.1" y="577.1" text-anchor="middle" font-size="37.3">4</text>
<text x="256.2" y="625.8" font-size="44.2">Electric field  (MV/cm)</text>
<text transform="translate(41.3 490.3) rotate(-90)" font-size="48.2">Polarization <tspan x="243.6">(</tspan><tspan x="261.6">μ</tspan><tspan x="285.8">C</tspan><tspan x="316.3">/</tspan><tspan x="334.3">c</tspan><tspan x="353.8">m</tspan><tspan x="389.2" dy="-20.5" font-size="31">2</tspan><tspan x="406.5" dy="20.5">)</tspan></text>
</svg>
</body></html>
